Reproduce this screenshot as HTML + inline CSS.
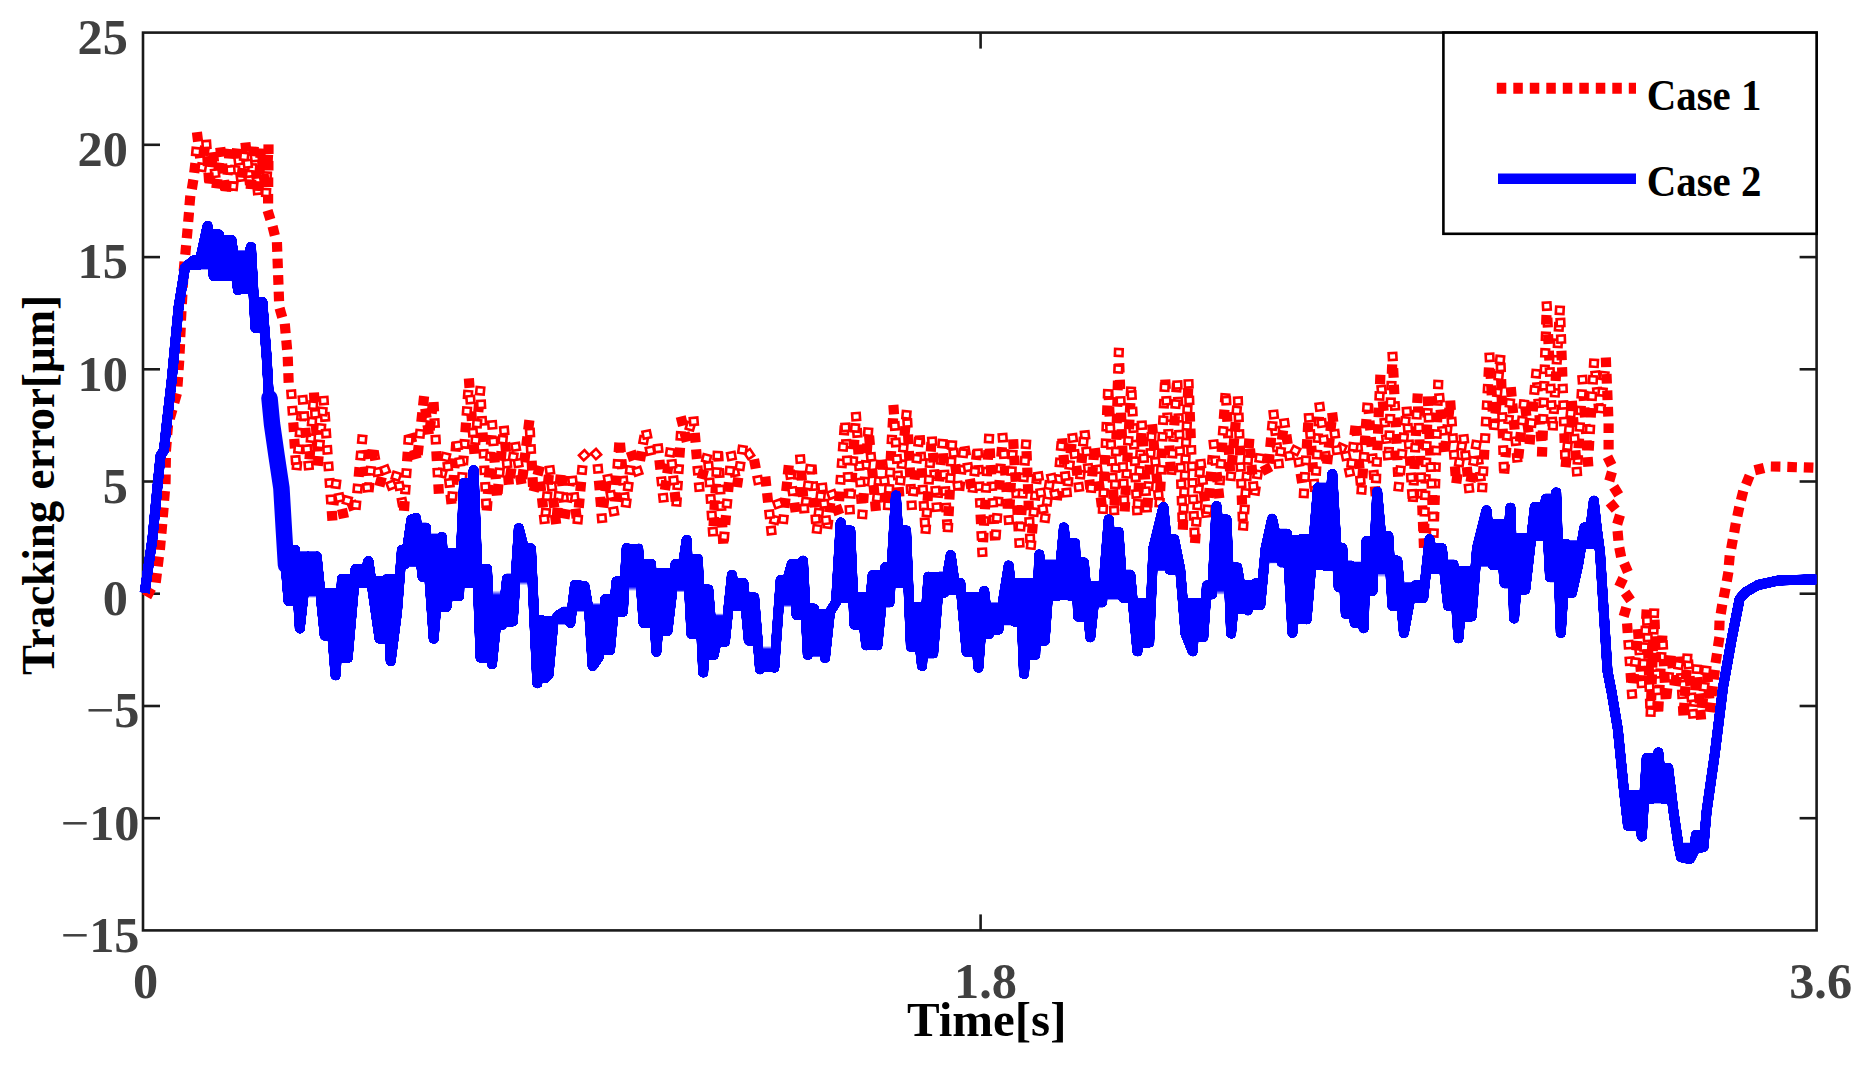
<!DOCTYPE html>
<html lang="en"><head><meta charset="utf-8"><title>Tracking error</title>
<style>html,body{margin:0;padding:0;background:#fff}svg{display:block}text{font-family:"Liberation Serif","Times New Roman",serif;font-weight:bold}</style></head><body>
<svg width="1874" height="1066" viewBox="0 0 1874 1066">
<rect width="1874" height="1066" fill="#fff"/>
<defs><clipPath id="cp"><rect x="130" y="20" width="1687.2" height="930"/></clipPath><filter id="cl" filterUnits="userSpaceOnUse" x="100" y="150" width="1760" height="760"><feMorphology operator="dilate" radius="3"/><feMorphology operator="erode" radius="3"/><feComponentTransfer><feFuncA type="linear" slope="4" intercept="-1.5"/></feComponentTransfer></filter></defs>
<g stroke="#1a1a1a" stroke-width="2.6" fill="none">
<rect x="143.0" y="32.6" width="1673.6" height="897.8"/>
<line x1="143.0" y1="144.8" x2="160.0" y2="144.8"/>
<line x1="1816.6" y1="144.8" x2="1799.6" y2="144.8"/>
<line x1="143.0" y1="257.1" x2="160.0" y2="257.1"/>
<line x1="1816.6" y1="257.1" x2="1799.6" y2="257.1"/>
<line x1="143.0" y1="369.3" x2="160.0" y2="369.3"/>
<line x1="1816.6" y1="369.3" x2="1799.6" y2="369.3"/>
<line x1="143.0" y1="481.5" x2="160.0" y2="481.5"/>
<line x1="1816.6" y1="481.5" x2="1799.6" y2="481.5"/>
<line x1="143.0" y1="593.7" x2="160.0" y2="593.7"/>
<line x1="1816.6" y1="593.7" x2="1799.6" y2="593.7"/>
<line x1="143.0" y1="706.0" x2="160.0" y2="706.0"/>
<line x1="1816.6" y1="706.0" x2="1799.6" y2="706.0"/>
<line x1="143.0" y1="818.2" x2="160.0" y2="818.2"/>
<line x1="1816.6" y1="818.2" x2="1799.6" y2="818.2"/>
<line x1="980.6" y1="930.4" x2="980.6" y2="914.4"/>
<line x1="980.6" y1="32.6" x2="980.6" y2="48.6"/>
</g>
<g fill="none" stroke-linejoin="round">
<g stroke="#ff0000" stroke-width="2.6" stroke-linejoin="miter" clip-path="url(#cp)">
<rect x="435.1" y="485.2" width="7.0" height="7.6" fill="#f00" transform="rotate(87 438.6 489.0)"/>
<rect x="1166.0" y="446.4" width="7.0" height="7.6" fill="#f00" transform="rotate(87 1169.5 450.2)"/>
<rect x="1607.1" y="472.6" width="7.0" height="7.6" fill="#f00" transform="rotate(106 1610.6 476.4)"/>
<rect x="1273.5" y="443.5" width="7.0" height="7.6" fill="#fff" transform="rotate(84 1277.0 447.3)"/>
<rect x="1474.8" y="456.3" width="7.0" height="7.6" fill="#fff" transform="rotate(83 1478.3 460.1)"/>
<rect x="1251.7" y="487.0" width="7.0" height="7.6" fill="#fff" transform="rotate(-82 1255.2 490.8)"/>
<rect x="312.7" y="426.5" width="7.0" height="7.6" fill="#f00" transform="rotate(87 316.2 430.3)"/>
<rect x="1541.2" y="365.5" width="7.0" height="7.6" fill="#fff" transform="rotate(-88 1544.7 369.3)"/>
<rect x="1338.2" y="444.1" width="7.0" height="7.6" fill="#fff" transform="rotate(-66 1341.7 447.9)"/>
<rect x="1614.5" y="532.0" width="7.0" height="7.6" fill="#f00" transform="rotate(85 1618.0 535.8)"/>
<rect x="1650.1" y="625.9" width="7.0" height="7.6" fill="#fff" transform="rotate(-88 1653.6 629.7)"/>
<rect x="626.6" y="466.3" width="7.0" height="7.6" fill="#fff" transform="rotate(-83 630.1 470.1)"/>
<rect x="861.2" y="477.6" width="7.0" height="7.6" fill="#fff" transform="rotate(-86 864.7 481.4)"/>
<rect x="1243.2" y="472.6" width="7.0" height="7.6" fill="#fff" transform="rotate(-86 1246.7 476.4)"/>
<rect x="1543.3" y="302.3" width="7.0" height="7.6" fill="#fff" transform="rotate(87 1546.8 306.1)"/>
<rect x="826.2" y="503.9" width="7.0" height="7.6" fill="#f00" transform="rotate(-83 829.7 507.7)"/>
<rect x="265.5" y="211.2" width="7.0" height="7.6" fill="#f00" transform="rotate(73 269.0 215.0)"/>
<rect x="1690.7" y="698.3" width="7.0" height="7.6" fill="#fff" transform="rotate(-86 1694.2 702.1)"/>
<rect x="1492.4" y="405.1" width="7.0" height="7.6" fill="#f00" transform="rotate(-85 1495.9 408.9)"/>
<rect x="285.0" y="374.1" width="7.0" height="7.6" fill="#f00" transform="rotate(88 288.5 377.9)"/>
<rect x="231.4" y="165.9" width="7.0" height="7.6" fill="#fff" transform="rotate(-84 234.9 169.7)"/>
<rect x="1333.4" y="446.3" width="7.0" height="7.6" fill="#fff" transform="rotate(83 1336.9 450.1)"/>
<rect x="183.7" y="229.7" width="7.0" height="7.6" fill="#f00" transform="rotate(-85 187.2 233.5)"/>
<rect x="1487.1" y="370.1" width="7.0" height="7.6" fill="#fff" transform="rotate(87 1490.6 373.9)"/>
<rect x="1242.1" y="489.1" width="7.0" height="7.6" fill="#fff" transform="rotate(-86 1245.6 492.9)"/>
<rect x="1437.5" y="410.5" width="7.0" height="7.6" fill="#f00" transform="rotate(85 1441.0 414.3)"/>
<rect x="284.4" y="357.7" width="7.0" height="7.6" fill="#f00" transform="rotate(88 287.9 361.5)"/>
<rect x="1130.5" y="440.8" width="7.0" height="7.6" fill="#fff" transform="rotate(87 1134.0 444.6)"/>
<rect x="815.3" y="508.8" width="7.0" height="7.6" fill="#fff" transform="rotate(-84 818.8 512.6)"/>
<rect x="1554.4" y="339.6" width="7.0" height="7.6" fill="#fff" transform="rotate(-87 1557.9 343.4)"/>
<rect x="783.2" y="482.7" width="7.0" height="7.6" fill="#f00" transform="rotate(-84 786.7 486.5)"/>
<rect x="484.7" y="485.6" width="7.0" height="7.6" fill="#f00" transform="rotate(-86 488.2 489.4)"/>
<rect x="468.1" y="412.3" width="7.0" height="7.6" fill="#f00" transform="rotate(86 471.6 416.1)"/>
<rect x="931.0" y="470.4" width="7.0" height="7.6" fill="#fff" transform="rotate(86 934.5 474.2)"/>
<rect x="1630.1" y="674.8" width="7.0" height="7.6" fill="#f00" transform="rotate(-85 1633.6 678.6)"/>
<rect x="707.2" y="495.0" width="7.0" height="7.6" fill="#fff" transform="rotate(86 710.7 498.8)"/>
<rect x="1533.9" y="383.1" width="7.0" height="7.6" fill="#fff" transform="rotate(86 1537.4 386.9)"/>
<rect x="177.0" y="328.5" width="7.0" height="7.6" fill="#f00" transform="rotate(-87 180.5 332.3)"/>
<rect x="1360.4" y="453.0" width="7.0" height="7.6" fill="#fff" transform="rotate(-86 1363.9 456.8)"/>
<rect x="362.1" y="467.4" width="7.0" height="7.6" fill="#f00" transform="rotate(84 365.6 471.2)"/>
<rect x="1170.1" y="433.2" width="7.0" height="7.6" fill="#fff" transform="rotate(-86 1173.6 437.0)"/>
<rect x="1725.8" y="556.5" width="7.0" height="7.6" fill="#f00" transform="rotate(-85 1729.3 560.3)"/>
<rect x="198.3" y="163.4" width="7.0" height="7.6" fill="#fff" transform="rotate(-81 201.8 167.2)"/>
<rect x="1369.1" y="454.5" width="7.0" height="7.6" fill="#fff" transform="rotate(85 1372.6 458.3)"/>
<rect x="907.3" y="485.1" width="7.0" height="7.6" fill="#fff" transform="rotate(87 910.8 488.9)"/>
<rect x="1392.9" y="435.1" width="7.0" height="7.6" fill="#f00" transform="rotate(87 1396.4 438.9)"/>
<rect x="1361.5" y="436.6" width="7.0" height="7.6" fill="#f00" transform="rotate(-86 1365.0 440.4)"/>
<rect x="1084.7" y="464.2" width="7.0" height="7.6" fill="#fff" transform="rotate(84 1088.2 468.0)"/>
<rect x="1175.8" y="430.7" width="7.0" height="7.6" fill="#fff" transform="rotate(88 1179.3 434.5)"/>
<rect x="1512.2" y="437.4" width="7.0" height="7.6" fill="#fff" transform="rotate(85 1515.7 441.2)"/>
<rect x="1411.1" y="460.4" width="7.0" height="7.6" fill="#f00" transform="rotate(-87 1414.6 464.2)"/>
<rect x="1499.3" y="429.7" width="7.0" height="7.6" fill="#f00" transform="rotate(88 1502.8 433.5)"/>
<rect x="189.1" y="180.6" width="7.0" height="7.6" fill="#f00" transform="rotate(-81 192.6 184.4)"/>
<rect x="1501.1" y="465.0" width="7.0" height="7.6" fill="#fff" transform="rotate(-85 1504.6 468.8)"/>
<rect x="575.7" y="499.2" width="7.0" height="7.6" fill="#f00" transform="rotate(-85 579.2 503.0)"/>
<rect x="1718.0" y="605.3" width="7.0" height="7.6" fill="#f00" transform="rotate(-81 1721.5 609.1)"/>
<rect x="387.7" y="481.3" width="7.0" height="7.6" fill="#fff" transform="rotate(69 391.2 485.1)"/>
<rect x="1580.1" y="392.2" width="7.0" height="7.6" fill="#f00" transform="rotate(86 1583.6 396.0)"/>
<rect x="1056.4" y="458.8" width="7.0" height="7.6" fill="#fff" transform="rotate(-85 1059.9 462.6)"/>
<rect x="939.0" y="439.9" width="7.0" height="7.6" fill="#fff" transform="rotate(-85 942.5 443.7)"/>
<rect x="911.6" y="471.2" width="7.0" height="7.6" fill="#f00" transform="rotate(-84 915.1 475.0)"/>
<rect x="1218.5" y="443.5" width="7.0" height="7.6" fill="#f00" transform="rotate(-86 1222.0 447.3)"/>
<rect x="979.8" y="533.6" width="7.0" height="7.6" fill="#fff" transform="rotate(-87 983.3 537.4)"/>
<rect x="1123.1" y="470.0" width="7.0" height="7.6" fill="#fff" transform="rotate(-87 1126.6 473.8)"/>
<rect x="265.0" y="145.4" width="7.0" height="7.6" fill="#f00" transform="rotate(90 268.5 149.2)"/>
<rect x="1145.1" y="482.3" width="7.0" height="7.6" fill="#fff" transform="rotate(-87 1148.6 486.1)"/>
<rect x="235.1" y="156.9" width="7.0" height="7.6" fill="#fff" transform="rotate(83 238.6 160.7)"/>
<rect x="1677.8" y="674.0" width="7.0" height="7.6" fill="#fff" transform="rotate(87 1681.3 677.8)"/>
<rect x="1133.6" y="506.7" width="7.0" height="7.6" fill="#fff" transform="rotate(87 1137.1 510.5)"/>
<rect x="1105.1" y="391.3" width="7.0" height="7.6" fill="#fff" transform="rotate(87 1108.6 395.1)"/>
<rect x="934.7" y="489.3" width="7.0" height="7.6" fill="#fff" transform="rotate(-85 938.2 493.1)"/>
<rect x="1455.8" y="458.5" width="7.0" height="7.6" fill="#fff" transform="rotate(-82 1459.3 462.3)"/>
<rect x="1175.2" y="414.2" width="7.0" height="7.6" fill="#fff" transform="rotate(88 1178.7 418.0)"/>
<rect x="948.5" y="441.3" width="7.0" height="7.6" fill="#fff" transform="rotate(-87 952.0 445.1)"/>
<rect x="1146.0" y="465.8" width="7.0" height="7.6" fill="#f00" transform="rotate(-87 1149.5 469.6)"/>
<rect x="1418.9" y="506.4" width="7.0" height="7.6" fill="#f00" transform="rotate(88 1422.4 510.2)"/>
<rect x="1536.3" y="416.0" width="7.0" height="7.6" fill="#f00" transform="rotate(86 1539.8 419.8)"/>
<rect x="619.7" y="476.8" width="7.0" height="7.6" fill="#fff" transform="rotate(85 623.2 480.6)"/>
<rect x="813.6" y="525.2" width="7.0" height="7.6" fill="#fff" transform="rotate(-84 817.1 529.0)"/>
<rect x="1156.1" y="498.8" width="7.0" height="7.6" fill="#fff" transform="rotate(-87 1159.6 502.6)"/>
<rect x="958.0" y="465.8" width="7.0" height="7.6" fill="#fff" transform="rotate(-84 961.5 469.6)"/>
<rect x="1304.5" y="423.7" width="7.0" height="7.6" fill="#f00" transform="rotate(-87 1308.0 427.5)"/>
<rect x="791.5" y="503.6" width="7.0" height="7.6" fill="#f00" transform="rotate(82 795.0 507.4)"/>
<rect x="1545.6" y="351.8" width="7.0" height="7.6" fill="#f00" transform="rotate(87 1549.1 355.6)"/>
<rect x="1772.1" y="462.8" width="7.0" height="7.6" fill="#f00" transform="rotate(1 1775.6 466.6)"/>
<rect x="870.5" y="486.0" width="7.0" height="7.6" fill="#f00" transform="rotate(85 874.0 489.8)"/>
<rect x="1256.2" y="454.3" width="7.0" height="7.6" fill="#fff" transform="rotate(-82 1259.7 458.1)"/>
<rect x="479.3" y="433.5" width="7.0" height="7.6" fill="#f00" transform="rotate(87 482.8 437.3)"/>
<rect x="185.1" y="213.3" width="7.0" height="7.6" fill="#f00" transform="rotate(-85 188.6 217.1)"/>
<rect x="1558.7" y="368.2" width="7.0" height="7.6" fill="#f00" transform="rotate(88 1562.2 372.0)"/>
<rect x="1064.6" y="477.7" width="7.0" height="7.6" fill="#fff" transform="rotate(-85 1068.1 481.5)"/>
<rect x="1353.0" y="427.2" width="7.0" height="7.6" fill="#f00" transform="rotate(85 1356.5 431.0)"/>
<rect x="1704.1" y="673.6" width="7.0" height="7.6" fill="#f00" transform="rotate(85 1707.6 677.4)"/>
<rect x="1391.4" y="402.2" width="7.0" height="7.6" fill="#fff" transform="rotate(87 1394.9 406.0)"/>
<rect x="1744.3" y="476.3" width="7.0" height="7.6" fill="#f00" transform="rotate(-68 1747.8 480.1)"/>
<rect x="1351.5" y="426.7" width="7.0" height="7.6" fill="#f00" transform="rotate(-84 1355.0 430.5)"/>
<rect x="1569.9" y="418.4" width="7.0" height="7.6" fill="#f00" transform="rotate(86 1573.4 422.2)"/>
<rect x="1541.7" y="349.0" width="7.0" height="7.6" fill="#fff" transform="rotate(-88 1545.2 352.8)"/>
<rect x="1433.7" y="413.7" width="7.0" height="7.6" fill="#f00" transform="rotate(-88 1437.2 417.5)"/>
<rect x="862.3" y="461.2" width="7.0" height="7.6" fill="#fff" transform="rotate(-86 865.8 465.0)"/>
<rect x="1230.3" y="439.5" width="7.0" height="7.6" fill="#f00" transform="rotate(-85 1233.8 443.3)"/>
<rect x="558.4" y="477.4" width="7.0" height="7.6" fill="#fff" transform="rotate(84 561.9 481.2)"/>
<rect x="1482.5" y="417.8" width="7.0" height="7.6" fill="#fff" transform="rotate(-87 1486.0 421.6)"/>
<rect x="1246.9" y="449.6" width="7.0" height="7.6" fill="#f00" transform="rotate(85 1250.4 453.4)"/>
<rect x="709.4" y="527.9" width="7.0" height="7.6" fill="#fff" transform="rotate(86 712.9 531.7)"/>
<rect x="1676.9" y="657.6" width="7.0" height="7.6" fill="#f00" transform="rotate(87 1680.4 661.4)"/>
<rect x="317.5" y="424.2" width="7.0" height="7.6" fill="#fff" transform="rotate(-85 321.0 428.0)"/>
<rect x="1693.2" y="665.4" width="7.0" height="7.6" fill="#fff" transform="rotate(-86 1696.7 669.2)"/>
<rect x="1622.5" y="563.8" width="7.0" height="7.6" fill="#f00" transform="rotate(67 1626.0 567.6)"/>
<rect x="463.4" y="407.3" width="7.0" height="7.6" fill="#fff" transform="rotate(-86 466.9 411.1)"/>
<rect x="407.5" y="434.5" width="7.0" height="7.6" fill="#f00" transform="rotate(75 411.0 438.3)"/>
<rect x="1086.3" y="480.6" width="7.0" height="7.6" fill="#f00" transform="rotate(84 1089.8 484.4)"/>
<rect x="503.5" y="459.7" width="7.0" height="7.6" fill="#fff" transform="rotate(85 507.0 463.5)"/>
<rect x="1300.4" y="489.6" width="7.0" height="7.6" fill="#fff" transform="rotate(-87 1303.9 493.4)"/>
<rect x="438.6" y="469.3" width="7.0" height="7.6" fill="#fff" transform="rotate(-77 442.1 473.1)"/>
<rect x="1158.3" y="449.4" width="7.0" height="7.6" fill="#f00" transform="rotate(-87 1161.8 453.2)"/>
<rect x="1378.1" y="385.9" width="7.0" height="7.6" fill="#fff" transform="rotate(85 1381.6 389.7)"/>
<rect x="943.7" y="520.2" width="7.0" height="7.6" fill="#fff" transform="rotate(87 947.2 524.0)"/>
<rect x="838.4" y="459.6" width="7.0" height="7.6" fill="#fff" transform="rotate(-86 841.9 463.4)"/>
<rect x="492.0" y="470.5" width="7.0" height="7.6" fill="#f00" transform="rotate(86 495.5 474.3)"/>
<rect x="1382.8" y="435.2" width="7.0" height="7.6" fill="#fff" transform="rotate(85 1386.3 439.0)"/>
<rect x="1138.4" y="421.5" width="7.0" height="7.6" fill="#fff" transform="rotate(87 1141.9 425.3)"/>
<rect x="1188.4" y="462.5" width="7.0" height="7.6" fill="#fff" transform="rotate(88 1191.9 466.3)"/>
<rect x="1185.8" y="396.6" width="7.0" height="7.6" fill="#fff" transform="rotate(88 1189.3 400.4)"/>
<rect x="1560.5" y="417.7" width="7.0" height="7.6" fill="#fff" transform="rotate(88 1564.0 421.5)"/>
<rect x="256.2" y="165.8" width="7.0" height="7.6" fill="#f00" transform="rotate(-87 259.7 169.6)"/>
<rect x="1102.3" y="439.5" width="7.0" height="7.6" fill="#fff" transform="rotate(-88 1105.8 443.3)"/>
<rect x="888.3" y="435.7" width="7.0" height="7.6" fill="#fff" transform="rotate(-87 891.8 439.5)"/>
<rect x="976.6" y="499.0" width="7.0" height="7.6" fill="#fff" transform="rotate(87 980.1 502.8)"/>
<rect x="323.8" y="446.1" width="7.0" height="7.6" fill="#fff" transform="rotate(86 327.3 449.9)"/>
<rect x="196.1" y="149.5" width="7.0" height="7.6" fill="#f00" transform="rotate(83 199.6 153.3)"/>
<rect x="1660.3" y="657.7" width="7.0" height="7.6" fill="#f00" transform="rotate(87 1663.8 661.5)"/>
<rect x="1309.3" y="463.3" width="7.0" height="7.6" fill="#f00" transform="rotate(86 1312.8 467.1)"/>
<rect x="570.7" y="493.2" width="7.0" height="7.6" fill="#fff" transform="rotate(84 574.2 497.0)"/>
<rect x="287.9" y="390.4" width="7.0" height="7.6" fill="#fff" transform="rotate(86 291.4 394.2)"/>
<rect x="994.6" y="497.6" width="7.0" height="7.6" fill="#fff" transform="rotate(-86 998.1 501.4)"/>
<rect x="237.2" y="173.3" width="7.0" height="7.6" fill="#fff" transform="rotate(83 240.7 177.1)"/>
<rect x="1177.1" y="463.7" width="7.0" height="7.6" fill="#fff" transform="rotate(88 1180.6 467.5)"/>
<rect x="180.6" y="262.6" width="7.0" height="7.6" fill="#f00" transform="rotate(-85 184.1 266.4)"/>
<rect x="628.8" y="451.9" width="7.0" height="7.6" fill="#f00" transform="rotate(71 632.3 455.7)"/>
<rect x="258.8" y="158.6" width="7.0" height="7.6" fill="#f00" transform="rotate(83 262.3 162.4)"/>
<rect x="809.7" y="482.4" width="7.0" height="7.6" fill="#fff" transform="rotate(86 813.2 486.2)"/>
<rect x="1548.7" y="417.7" width="7.0" height="7.6" fill="#fff" transform="rotate(87 1552.2 421.5)"/>
<rect x="373.9" y="468.2" width="7.0" height="7.6" fill="#fff" transform="rotate(80 377.4 472.0)"/>
<rect x="328.6" y="512.0" width="7.0" height="7.6" fill="#f00" transform="rotate(86 332.1 515.8)"/>
<rect x="1702.6" y="666.6" width="7.0" height="7.6" fill="#fff" transform="rotate(-84 1706.1 670.4)"/>
<rect x="1108.3" y="457.3" width="7.0" height="7.6" fill="#fff" transform="rotate(87 1111.8 461.1)"/>
<rect x="926.5" y="459.4" width="7.0" height="7.6" fill="#fff" transform="rotate(-86 930.0 463.2)"/>
<rect x="377.1" y="477.8" width="7.0" height="7.6" fill="#f00" transform="rotate(-75 380.6 481.6)"/>
<rect x="1513.6" y="453.9" width="7.0" height="7.6" fill="#fff" transform="rotate(85 1517.1 457.7)"/>
<rect x="1151.9" y="458.0" width="7.0" height="7.6" fill="#fff" transform="rotate(85 1155.4 461.8)"/>
<rect x="246.0" y="176.3" width="7.0" height="7.6" fill="#fff" transform="rotate(84 249.5 180.1)"/>
<rect x="1105.9" y="407.8" width="7.0" height="7.6" fill="#fff" transform="rotate(87 1109.4 411.6)"/>
<rect x="1113.9" y="398.2" width="7.0" height="7.6" fill="#f00" transform="rotate(-88 1117.4 402.0)"/>
<rect x="1483.4" y="401.4" width="7.0" height="7.6" fill="#fff" transform="rotate(-87 1486.9 405.2)"/>
<rect x="1233.2" y="406.7" width="7.0" height="7.6" fill="#fff" transform="rotate(-85 1236.7 410.5)"/>
<rect x="254.2" y="186.6" width="7.0" height="7.6" fill="#fff" transform="rotate(85 257.7 190.4)"/>
<rect x="1532.7" y="369.9" width="7.0" height="7.6" fill="#fff" transform="rotate(-85 1536.2 373.7)"/>
<rect x="564.2" y="493.8" width="7.0" height="7.6" fill="#fff" transform="rotate(-81 567.7 497.6)"/>
<rect x="1592.1" y="371.5" width="7.0" height="7.6" fill="#fff" transform="rotate(84 1595.6 375.3)"/>
<rect x="1705.4" y="690.0" width="7.0" height="7.6" fill="#f00" transform="rotate(85 1708.9 693.8)"/>
<rect x="1365.0" y="405.2" width="7.0" height="7.6" fill="#f00" transform="rotate(85 1368.5 409.0)"/>
<rect x="519.4" y="470.3" width="7.0" height="7.6" fill="#f00" transform="rotate(-83 522.9 474.1)"/>
<rect x="820.7" y="500.1" width="7.0" height="7.6" fill="#fff" transform="rotate(84 824.2 503.9)"/>
<rect x="1355.6" y="460.1" width="7.0" height="7.6" fill="#f00" transform="rotate(85 1359.1 463.9)"/>
<rect x="172.1" y="394.2" width="7.0" height="7.6" fill="#f00" transform="rotate(-74 175.6 398.0)"/>
<rect x="1118.3" y="430.1" width="7.0" height="7.6" fill="#f00" transform="rotate(88 1121.8 433.9)"/>
<rect x="711.2" y="501.3" width="7.0" height="7.6" fill="#f00" transform="rotate(-87 714.7 505.1)"/>
<rect x="1403.4" y="407.7" width="7.0" height="7.6" fill="#fff" transform="rotate(86 1406.9 411.5)"/>
<rect x="1694.5" y="678.1" width="7.0" height="7.6" fill="#f00" transform="rotate(85 1698.0 681.9)"/>
<rect x="1472.7" y="441.0" width="7.0" height="7.6" fill="#fff" transform="rotate(-81 1476.2 444.8)"/>
<rect x="281.7" y="324.8" width="7.0" height="7.6" fill="#f00" transform="rotate(85 285.2 328.6)"/>
<rect x="1595.4" y="404.3" width="7.0" height="7.6" fill="#f00" transform="rotate(84 1598.9 408.1)"/>
<rect x="462.2" y="423.7" width="7.0" height="7.6" fill="#f00" transform="rotate(-86 465.7 427.5)"/>
<rect x="811.0" y="498.8" width="7.0" height="7.6" fill="#f00" transform="rotate(86 814.5 502.6)"/>
<rect x="837.1" y="476.0" width="7.0" height="7.6" fill="#fff" transform="rotate(-86 840.6 479.8)"/>
<rect x="210.0" y="153.1" width="7.0" height="7.6" fill="#f00" transform="rotate(84 213.5 156.9)"/>
<rect x="1281.0" y="419.3" width="7.0" height="7.6" fill="#fff" transform="rotate(82 1284.5 423.1)"/>
<rect x="850.5" y="440.7" width="7.0" height="7.6" fill="#f00" transform="rotate(-86 854.0 444.5)"/>
<rect x="1412.6" y="427.4" width="7.0" height="7.6" fill="#f00" transform="rotate(-87 1416.1 431.2)"/>
<rect x="1503.7" y="432.1" width="7.0" height="7.6" fill="#fff" transform="rotate(-85 1507.2 435.9)"/>
<rect x="367.1" y="467.0" width="7.0" height="7.6" fill="#fff" transform="rotate(-84 370.6 470.8)"/>
<rect x="1059.1" y="439.4" width="7.0" height="7.6" fill="#f00" transform="rotate(85 1062.6 443.2)"/>
<rect x="1626.2" y="657.4" width="7.0" height="7.6" fill="#fff" transform="rotate(86 1629.7 661.2)"/>
<rect x="654.7" y="444.6" width="7.0" height="7.6" fill="#fff" transform="rotate(84 658.2 448.4)"/>
<rect x="1389.9" y="369.2" width="7.0" height="7.6" fill="#f00" transform="rotate(87 1393.4 373.0)"/>
<rect x="1311.7" y="483.7" width="7.0" height="7.6" fill="#fff" transform="rotate(-87 1315.2 487.5)"/>
<rect x="1139.4" y="437.9" width="7.0" height="7.6" fill="#f00" transform="rotate(87 1142.9 441.7)"/>
<rect x="1724.1" y="572.9" width="7.0" height="7.6" fill="#f00" transform="rotate(-80 1727.6 576.7)"/>
<rect x="1685.0" y="660.7" width="7.0" height="7.6" fill="#fff" transform="rotate(85 1688.5 664.5)"/>
<rect x="879.0" y="460.6" width="7.0" height="7.6" fill="#fff" transform="rotate(83 882.5 464.4)"/>
<rect x="1002.8" y="483.3" width="7.0" height="7.6" fill="#f00" transform="rotate(86 1006.3 487.1)"/>
<rect x="969.5" y="484.2" width="7.0" height="7.6" fill="#fff" transform="rotate(-84 973.0 488.0)"/>
<rect x="1303.5" y="440.2" width="7.0" height="7.6" fill="#f00" transform="rotate(-87 1307.0 444.0)"/>
<rect x="552.1" y="515.5" width="7.0" height="7.6" fill="#f00" transform="rotate(83 555.6 519.3)"/>
<rect x="796.8" y="455.3" width="7.0" height="7.6" fill="#fff" transform="rotate(86 800.3 459.1)"/>
<rect x="1597.2" y="404.7" width="7.0" height="7.6" fill="#fff" transform="rotate(-84 1600.7 408.5)"/>
<rect x="781.5" y="499.1" width="7.0" height="7.6" fill="#f00" transform="rotate(-84 785.0 502.9)"/>
<rect x="824.3" y="520.3" width="7.0" height="7.6" fill="#fff" transform="rotate(-83 827.8 524.1)"/>
<rect x="1022.5" y="440.5" width="7.0" height="7.6" fill="#fff" transform="rotate(-86 1026.0 444.3)"/>
<rect x="618.3" y="460.4" width="7.0" height="7.6" fill="#f00" transform="rotate(85 621.8 464.2)"/>
<rect x="330.5" y="496.5" width="7.0" height="7.6" fill="#f00" transform="rotate(-83 334.0 500.3)"/>
<rect x="572.6" y="509.6" width="7.0" height="7.6" fill="#f00" transform="rotate(84 576.1 513.4)"/>
<rect x="461.0" y="440.2" width="7.0" height="7.6" fill="#fff" transform="rotate(-86 464.5 444.0)"/>
<rect x="478.5" y="417.1" width="7.0" height="7.6" fill="#fff" transform="rotate(87 482.0 420.9)"/>
<rect x="164.1" y="426.1" width="7.0" height="7.6" fill="#f00" transform="rotate(-85 167.6 429.9)"/>
<rect x="1553.4" y="356.0" width="7.0" height="7.6" fill="#fff" transform="rotate(-87 1556.9 359.8)"/>
<rect x="1107.5" y="440.8" width="7.0" height="7.6" fill="#fff" transform="rotate(87 1111.0 444.6)"/>
<rect x="1734.8" y="507.8" width="7.0" height="7.6" fill="#f00" transform="rotate(-78 1738.3 511.6)"/>
<rect x="1386.0" y="431.4" width="7.0" height="7.6" fill="#fff" transform="rotate(-88 1389.5 435.2)"/>
<rect x="1160.5" y="399.9" width="7.0" height="7.6" fill="#fff" transform="rotate(-87 1164.0 403.7)"/>
<rect x="1589.5" y="376.0" width="7.0" height="7.6" fill="#fff" transform="rotate(-87 1593.0 379.8)"/>
<rect x="283.2" y="341.2" width="7.0" height="7.6" fill="#f00" transform="rotate(85 286.7 345.0)"/>
<rect x="1190.3" y="512.0" width="7.0" height="7.6" fill="#fff" transform="rotate(88 1193.8 515.8)"/>
<rect x="1605.1" y="424.4" width="7.0" height="7.6" fill="#f00" transform="rotate(90 1608.6 428.2)"/>
<rect x="895.5" y="488.1" width="7.0" height="7.6" fill="#f00" transform="rotate(86 899.0 491.9)"/>
<rect x="175.4" y="361.4" width="7.0" height="7.6" fill="#f00" transform="rotate(-86 178.9 365.2)"/>
<rect x="1329.2" y="413.6" width="7.0" height="7.6" fill="#f00" transform="rotate(83 1332.7 417.4)"/>
<rect x="1379.7" y="402.4" width="7.0" height="7.6" fill="#f00" transform="rotate(85 1383.2 406.2)"/>
<rect x="1004.0" y="499.7" width="7.0" height="7.6" fill="#fff" transform="rotate(86 1007.5 503.5)"/>
<rect x="1635.9" y="646.6" width="7.0" height="7.6" fill="#fff" transform="rotate(86 1639.4 650.4)"/>
<rect x="1538.6" y="448.0" width="7.0" height="7.6" fill="#f00" transform="rotate(-88 1542.1 451.8)"/>
<rect x="1539.7" y="415.0" width="7.0" height="7.6" fill="#fff" transform="rotate(-88 1543.2 418.8)"/>
<rect x="675.2" y="465.2" width="7.0" height="7.6" fill="#fff" transform="rotate(-86 678.7 469.0)"/>
<rect x="483.6" y="502.0" width="7.0" height="7.6" fill="#f00" transform="rotate(-86 487.1 505.8)"/>
<rect x="475.2" y="403.4" width="7.0" height="7.6" fill="#f00" transform="rotate(-85 478.7 407.2)"/>
<rect x="1650.6" y="609.4" width="7.0" height="7.6" fill="#fff" transform="rotate(-88 1654.1 613.2)"/>
<rect x="899.9" y="443.9" width="7.0" height="7.6" fill="#fff" transform="rotate(-85 903.4 447.7)"/>
<rect x="983.6" y="467.7" width="7.0" height="7.6" fill="#fff" transform="rotate(-87 987.1 471.5)"/>
<rect x="710.3" y="517.7" width="7.0" height="7.6" fill="#f00" transform="rotate(-87 713.8 521.5)"/>
<rect x="289.0" y="406.8" width="7.0" height="7.6" fill="#fff" transform="rotate(86 292.5 410.6)"/>
<rect x="1109.8" y="490.2" width="7.0" height="7.6" fill="#f00" transform="rotate(87 1113.3 494.0)"/>
<rect x="664.4" y="465.0" width="7.0" height="7.6" fill="#f00" transform="rotate(-82 667.9 468.8)"/>
<rect x="1312.6" y="467.2" width="7.0" height="7.6" fill="#fff" transform="rotate(-87 1316.1 471.0)"/>
<rect x="1651.8" y="637.2" width="7.0" height="7.6" fill="#f00" transform="rotate(88 1655.3 641.0)"/>
<rect x="1081.5" y="431.3" width="7.0" height="7.6" fill="#fff" transform="rotate(84 1085.0 435.1)"/>
<rect x="799.3" y="488.2" width="7.0" height="7.6" fill="#f00" transform="rotate(86 802.8 492.0)"/>
<rect x="779.9" y="515.5" width="7.0" height="7.6" fill="#fff" transform="rotate(-84 783.4 519.3)"/>
<rect x="595.8" y="481.5" width="7.0" height="7.6" fill="#f00" transform="rotate(85 599.3 485.3)"/>
<rect x="499.2" y="435.8" width="7.0" height="7.6" fill="#fff" transform="rotate(-85 502.7 439.6)"/>
<rect x="1285.9" y="451.9" width="7.0" height="7.6" fill="#fff" transform="rotate(82 1289.4 455.7)"/>
<rect x="159.7" y="508.5" width="7.0" height="7.6" fill="#f00" transform="rotate(-85 163.2 512.3)"/>
<rect x="901.4" y="427.4" width="7.0" height="7.6" fill="#f00" transform="rotate(-85 904.9 431.2)"/>
<rect x="1121.4" y="503.0" width="7.0" height="7.6" fill="#f00" transform="rotate(-87 1124.9 506.8)"/>
<rect x="293.4" y="461.7" width="7.0" height="7.6" fill="#fff" transform="rotate(-85 296.9 465.5)"/>
<rect x="1237.1" y="463.2" width="7.0" height="7.6" fill="#fff" transform="rotate(88 1240.6 467.0)"/>
<rect x="1493.8" y="388.6" width="7.0" height="7.6" fill="#fff" transform="rotate(-85 1497.3 392.4)"/>
<rect x="1012.9" y="489.7" width="7.0" height="7.6" fill="#fff" transform="rotate(87 1016.4 493.5)"/>
<rect x="1127.4" y="387.6" width="7.0" height="7.6" fill="#fff" transform="rotate(-87 1130.9 391.4)"/>
<rect x="719.5" y="535.2" width="7.0" height="7.6" fill="#f00" transform="rotate(87 723.0 539.0)"/>
<rect x="1122.2" y="486.5" width="7.0" height="7.6" fill="#f00" transform="rotate(-87 1125.7 490.3)"/>
<rect x="1115.9" y="364.2" width="7.0" height="7.6" fill="#f00" transform="rotate(88 1119.4 368.0)"/>
<rect x="182.2" y="246.2" width="7.0" height="7.6" fill="#f00" transform="rotate(-85 185.7 250.0)"/>
<rect x="509.7" y="452.9" width="7.0" height="7.6" fill="#fff" transform="rotate(-81 513.2 456.7)"/>
<rect x="1520.3" y="400.4" width="7.0" height="7.6" fill="#fff" transform="rotate(-84 1523.8 404.2)"/>
<rect x="686.8" y="422.4" width="7.0" height="7.6" fill="#fff" transform="rotate(-74 690.3 426.2)"/>
<rect x="1327.4" y="422.7" width="7.0" height="7.6" fill="#f00" transform="rotate(-84 1330.9 426.5)"/>
<rect x="929.8" y="453.9" width="7.0" height="7.6" fill="#f00" transform="rotate(86 933.3 457.7)"/>
<rect x="1006.2" y="500.2" width="7.0" height="7.6" fill="#f00" transform="rotate(-87 1009.7 504.0)"/>
<rect x="1168.0" y="466.2" width="7.0" height="7.6" fill="#fff" transform="rotate(-86 1171.5 470.0)"/>
<rect x="918.5" y="469.2" width="7.0" height="7.6" fill="#f00" transform="rotate(87 922.0 473.0)"/>
<rect x="1156.9" y="482.4" width="7.0" height="7.6" fill="#f00" transform="rotate(-87 1160.4 486.2)"/>
<rect x="1593.8" y="387.9" width="7.0" height="7.6" fill="#fff" transform="rotate(84 1597.3 391.7)"/>
<rect x="922.3" y="525.3" width="7.0" height="7.6" fill="#fff" transform="rotate(-86 925.8 529.1)"/>
<rect x="1562.5" y="458.7" width="7.0" height="7.6" fill="#f00" transform="rotate(-85 1566.0 462.5)"/>
<rect x="1174.6" y="397.7" width="7.0" height="7.6" fill="#fff" transform="rotate(88 1178.1 401.5)"/>
<rect x="1394.4" y="468.1" width="7.0" height="7.6" fill="#fff" transform="rotate(87 1397.9 471.9)"/>
<rect x="1588.5" y="392.4" width="7.0" height="7.6" fill="#fff" transform="rotate(-87 1592.0 396.2)"/>
<rect x="459.9" y="456.6" width="7.0" height="7.6" fill="#fff" transform="rotate(-86 463.4 460.4)"/>
<rect x="221.1" y="181.2" width="7.0" height="7.6" fill="#f00" transform="rotate(83 224.6 185.0)"/>
<rect x="401.9" y="485.7" width="7.0" height="7.6" fill="#fff" transform="rotate(-86 405.4 489.5)"/>
<rect x="1465.5" y="484.4" width="7.0" height="7.6" fill="#fff" transform="rotate(84 1469.0 488.2)"/>
<rect x="767.8" y="526.8" width="7.0" height="7.6" fill="#fff" transform="rotate(84 771.3 530.6)"/>
<rect x="430.3" y="402.9" width="7.0" height="7.6" fill="#f00" transform="rotate(87 433.8 406.7)"/>
<rect x="431.2" y="419.3" width="7.0" height="7.6" fill="#fff" transform="rotate(87 434.7 423.1)"/>
<rect x="432.2" y="435.8" width="7.0" height="7.6" fill="#fff" transform="rotate(87 435.7 439.6)"/>
<rect x="1147.0" y="449.3" width="7.0" height="7.6" fill="#fff" transform="rotate(-87 1150.5 453.1)"/>
<rect x="1014.9" y="522.6" width="7.0" height="7.6" fill="#fff" transform="rotate(87 1018.4 526.4)"/>
<rect x="1162.0" y="380.5" width="7.0" height="7.6" fill="#f00" transform="rotate(87 1165.5 384.3)"/>
<rect x="1623.9" y="624.4" width="7.0" height="7.6" fill="#f00" transform="rotate(86 1627.4 628.2)"/>
<rect x="927.6" y="443.0" width="7.0" height="7.6" fill="#f00" transform="rotate(-86 931.1 446.8)"/>
<rect x="1195.1" y="485.1" width="7.0" height="7.6" fill="#fff" transform="rotate(-86 1198.6 488.9)"/>
<rect x="1448.2" y="417.9" width="7.0" height="7.6" fill="#fff" transform="rotate(86 1451.7 421.7)"/>
<rect x="1648.9" y="658.9" width="7.0" height="7.6" fill="#f00" transform="rotate(-88 1652.4 662.7)"/>
<rect x="996.9" y="464.7" width="7.0" height="7.6" fill="#fff" transform="rotate(-86 1000.4 468.5)"/>
<rect x="842.8" y="440.1" width="7.0" height="7.6" fill="#fff" transform="rotate(87 846.3 443.9)"/>
<rect x="422.4" y="409.5" width="7.0" height="7.6" fill="#f00" transform="rotate(82 425.9 413.3)"/>
<rect x="1322.2" y="452.2" width="7.0" height="7.6" fill="#fff" transform="rotate(83 1325.7 456.0)"/>
<rect x="1498.3" y="396.7" width="7.0" height="7.6" fill="#f00" transform="rotate(88 1501.8 400.5)"/>
<rect x="450.1" y="476.0" width="7.0" height="7.6" fill="#f00" transform="rotate(-86 453.6 479.8)"/>
<rect x="1646.6" y="699.6" width="7.0" height="7.6" fill="#fff" transform="rotate(88 1650.1 703.4)"/>
<rect x="637.3" y="452.4" width="7.0" height="7.6" fill="#f00" transform="rotate(-80 640.8 456.2)"/>
<rect x="990.4" y="515.4" width="7.0" height="7.6" fill="#fff" transform="rotate(87 993.9 519.2)"/>
<rect x="1358.1" y="486.0" width="7.0" height="7.6" fill="#fff" transform="rotate(-86 1361.6 489.8)"/>
<rect x="1627.4" y="673.8" width="7.0" height="7.6" fill="#f00" transform="rotate(86 1630.9 677.6)"/>
<rect x="442.2" y="453.2" width="7.0" height="7.6" fill="#fff" transform="rotate(-77 445.7 457.0)"/>
<rect x="1574.3" y="456.1" width="7.0" height="7.6" fill="#fff" transform="rotate(-87 1577.8 459.9)"/>
<rect x="1181.4" y="471.6" width="7.0" height="7.6" fill="#fff" transform="rotate(-88 1184.9 475.4)"/>
<rect x="1017.0" y="522.8" width="7.0" height="7.6" fill="#fff" transform="rotate(-86 1020.5 526.6)"/>
<rect x="255.3" y="182.3" width="7.0" height="7.6" fill="#f00" transform="rotate(-87 258.8 186.1)"/>
<rect x="1573.4" y="467.8" width="7.0" height="7.6" fill="#fff" transform="rotate(86 1576.9 471.6)"/>
<rect x="1069.2" y="434.1" width="7.0" height="7.6" fill="#fff" transform="rotate(83 1072.7 437.9)"/>
<rect x="497.6" y="452.2" width="7.0" height="7.6" fill="#f00" transform="rotate(-85 501.1 456.0)"/>
<rect x="402.9" y="469.3" width="7.0" height="7.6" fill="#fff" transform="rotate(-86 406.4 473.1)"/>
<rect x="1165.0" y="429.9" width="7.0" height="7.6" fill="#fff" transform="rotate(87 1168.5 433.7)"/>
<rect x="872.0" y="502.4" width="7.0" height="7.6" fill="#f00" transform="rotate(85 875.5 506.2)"/>
<rect x="734.1" y="478.6" width="7.0" height="7.6" fill="#f00" transform="rotate(-82 737.6 482.4)"/>
<rect x="1103.7" y="406.5" width="7.0" height="7.6" fill="#f00" transform="rotate(-88 1107.2 410.3)"/>
<rect x="1100.1" y="489.0" width="7.0" height="7.6" fill="#fff" transform="rotate(-88 1103.6 492.8)"/>
<rect x="1389.1" y="352.7" width="7.0" height="7.6" fill="#fff" transform="rotate(87 1392.6 356.5)"/>
<rect x="1187.1" y="429.6" width="7.0" height="7.6" fill="#f00" transform="rotate(88 1190.6 433.4)"/>
<rect x="480.2" y="450.0" width="7.0" height="7.6" fill="#fff" transform="rotate(87 483.7 453.8)"/>
<rect x="186.4" y="196.8" width="7.0" height="7.6" fill="#f00" transform="rotate(-85 189.9 200.6)"/>
<rect x="208.3" y="158.7" width="7.0" height="7.6" fill="#f00" transform="rotate(-84 211.8 162.5)"/>
<rect x="445.9" y="479.1" width="7.0" height="7.6" fill="#fff" transform="rotate(84 449.4 482.9)"/>
<rect x="299.3" y="396.0" width="7.0" height="7.6" fill="#fff" transform="rotate(85 302.8 399.8)"/>
<rect x="162.8" y="442.6" width="7.0" height="7.6" fill="#f00" transform="rotate(-85 166.3 446.4)"/>
<rect x="556.8" y="475.7" width="7.0" height="7.6" fill="#f00" transform="rotate(-85 560.3 479.5)"/>
<rect x="1443.7" y="425.5" width="7.0" height="7.6" fill="#fff" transform="rotate(-84 1447.2 429.3)"/>
<rect x="1668.7" y="659.6" width="7.0" height="7.6" fill="#f00" transform="rotate(83 1672.2 663.4)"/>
<rect x="1559.3" y="384.7" width="7.0" height="7.6" fill="#fff" transform="rotate(88 1562.8 388.5)"/>
<rect x="884.6" y="501.6" width="7.0" height="7.6" fill="#fff" transform="rotate(-87 888.1 505.4)"/>
<rect x="542.3" y="508.8" width="7.0" height="7.6" fill="#fff" transform="rotate(-85 545.8 512.6)"/>
<rect x="1616.7" y="548.4" width="7.0" height="7.6" fill="#f00" transform="rotate(79 1620.2 552.2)"/>
<rect x="942.7" y="503.7" width="7.0" height="7.6" fill="#fff" transform="rotate(87 946.2 507.5)"/>
<rect x="1150.4" y="441.6" width="7.0" height="7.6" fill="#f00" transform="rotate(85 1153.9 445.4)"/>
<rect x="1431.7" y="479.7" width="7.0" height="7.6" fill="#fff" transform="rotate(-88 1435.2 483.5)"/>
<rect x="1075.3" y="483.2" width="7.0" height="7.6" fill="#fff" transform="rotate(83 1078.8 487.0)"/>
<rect x="1414.7" y="407.4" width="7.0" height="7.6" fill="#f00" transform="rotate(88 1418.2 411.2)"/>
<rect x="1728.5" y="540.2" width="7.0" height="7.6" fill="#f00" transform="rotate(-80 1732.0 544.0)"/>
<rect x="161.0" y="492.0" width="7.0" height="7.6" fill="#f00" transform="rotate(-85 164.5 495.8)"/>
<rect x="936.1" y="472.8" width="7.0" height="7.6" fill="#f00" transform="rotate(-85 939.6 476.6)"/>
<rect x="1422.1" y="475.0" width="7.0" height="7.6" fill="#fff" transform="rotate(-88 1425.6 478.8)"/>
<rect x="1143.2" y="503.8" width="7.0" height="7.6" fill="#fff" transform="rotate(87 1146.7 507.6)"/>
<rect x="989.4" y="499.0" width="7.0" height="7.6" fill="#fff" transform="rotate(87 992.9 502.8)"/>
<rect x="1679.7" y="707.0" width="7.0" height="7.6" fill="#f00" transform="rotate(87 1683.2 710.8)"/>
<rect x="1606.1" y="457.2" width="7.0" height="7.6" fill="#f00" transform="rotate(64 1609.6 461.0)"/>
<rect x="1550.5" y="405.4" width="7.0" height="7.6" fill="#fff" transform="rotate(-87 1554.0 409.2)"/>
<rect x="1178.3" y="496.7" width="7.0" height="7.6" fill="#fff" transform="rotate(88 1181.8 500.5)"/>
<rect x="812.2" y="515.3" width="7.0" height="7.6" fill="#fff" transform="rotate(86 815.7 519.1)"/>
<rect x="1495.2" y="372.2" width="7.0" height="7.6" fill="#fff" transform="rotate(-85 1498.7 376.0)"/>
<rect x="224.4" y="166.4" width="7.0" height="7.6" fill="#f00" transform="rotate(-85 227.9 170.2)"/>
<rect x="580.6" y="451.5" width="7.0" height="7.6" fill="#fff" transform="rotate(47 584.1 455.3)"/>
<rect x="290.1" y="423.3" width="7.0" height="7.6" fill="#f00" transform="rotate(86 293.6 427.1)"/>
<rect x="1692.0" y="681.8" width="7.0" height="7.6" fill="#f00" transform="rotate(-86 1695.5 685.6)"/>
<rect x="1706.9" y="703.6" width="7.0" height="7.6" fill="#f00" transform="rotate(-83 1710.4 707.4)"/>
<rect x="451.2" y="459.5" width="7.0" height="7.6" fill="#f00" transform="rotate(-86 454.7 463.3)"/>
<rect x="984.6" y="451.2" width="7.0" height="7.6" fill="#fff" transform="rotate(-87 988.1 455.0)"/>
<rect x="1009.9" y="440.3" width="7.0" height="7.6" fill="#f00" transform="rotate(87 1013.4 444.1)"/>
<rect x="251.4" y="153.7" width="7.0" height="7.6" fill="#fff" transform="rotate(85 254.9 157.5)"/>
<rect x="204.1" y="157.2" width="7.0" height="7.6" fill="#f00" transform="rotate(86 207.6 161.0)"/>
<rect x="1721.1" y="589.1" width="7.0" height="7.6" fill="#f00" transform="rotate(-79 1724.6 592.9)"/>
<rect x="1180.1" y="504.6" width="7.0" height="7.6" fill="#fff" transform="rotate(-88 1183.6 508.4)"/>
<rect x="1395.2" y="482.9" width="7.0" height="7.6" fill="#fff" transform="rotate(-84 1398.7 486.7)"/>
<rect x="1324.1" y="455.5" width="7.0" height="7.6" fill="#f00" transform="rotate(-84 1327.6 459.3)"/>
<rect x="1144.2" y="498.8" width="7.0" height="7.6" fill="#f00" transform="rotate(-87 1147.7 502.6)"/>
<rect x="1535.1" y="399.6" width="7.0" height="7.6" fill="#fff" transform="rotate(86 1538.6 403.4)"/>
<rect x="200.8" y="147.1" width="7.0" height="7.6" fill="#f00" transform="rotate(-81 204.3 150.9)"/>
<rect x="1489.9" y="419.5" width="7.0" height="7.6" fill="#f00" transform="rotate(87 1493.4 423.3)"/>
<rect x="420.1" y="397.1" width="7.0" height="7.6" fill="#f00" transform="rotate(-84 423.6 400.9)"/>
<rect x="1031.8" y="491.9" width="7.0" height="7.6" fill="#fff" transform="rotate(-85 1035.3 495.7)"/>
<rect x="673.1" y="498.1" width="7.0" height="7.6" fill="#fff" transform="rotate(-86 676.6 501.9)"/>
<rect x="1505.1" y="415.7" width="7.0" height="7.6" fill="#fff" transform="rotate(-85 1508.6 419.5)"/>
<rect x="745.7" y="450.3" width="7.0" height="7.6" fill="#fff" transform="rotate(-34 749.2 454.1)"/>
<rect x="731.1" y="468.4" width="7.0" height="7.6" fill="#fff" transform="rotate(79 734.6 472.2)"/>
<rect x="1234.5" y="397.2" width="7.0" height="7.6" fill="#fff" transform="rotate(88 1238.0 401.0)"/>
<rect x="321.5" y="413.2" width="7.0" height="7.6" fill="#fff" transform="rotate(86 325.0 417.0)"/>
<rect x="1354.3" y="443.7" width="7.0" height="7.6" fill="#fff" transform="rotate(85 1357.8 447.5)"/>
<rect x="1267.2" y="438.6" width="7.0" height="7.6" fill="#f00" transform="rotate(-85 1270.7 442.4)"/>
<rect x="1315.3" y="417.8" width="7.0" height="7.6" fill="#fff" transform="rotate(-87 1318.8 421.6)"/>
<rect x="1546.4" y="368.2" width="7.0" height="7.6" fill="#fff" transform="rotate(87 1549.9 372.0)"/>
<rect x="853.7" y="429.2" width="7.0" height="7.6" fill="#fff" transform="rotate(86 857.2 433.0)"/>
<rect x="751.4" y="460.1" width="7.0" height="7.6" fill="#f00" transform="rotate(79 754.9 463.9)"/>
<rect x="993.5" y="514.1" width="7.0" height="7.6" fill="#fff" transform="rotate(-86 997.0 517.9)"/>
<rect x="365.5" y="483.4" width="7.0" height="7.6" fill="#fff" transform="rotate(-84 369.0 487.2)"/>
<rect x="1226.3" y="462.7" width="7.0" height="7.6" fill="#f00" transform="rotate(87 1229.8 466.5)"/>
<rect x="725.0" y="483.3" width="7.0" height="7.6" fill="#f00" transform="rotate(-85 728.5 487.1)"/>
<rect x="320.3" y="396.8" width="7.0" height="7.6" fill="#fff" transform="rotate(86 323.8 400.6)"/>
<rect x="840.8" y="426.7" width="7.0" height="7.6" fill="#fff" transform="rotate(-86 844.3 430.5)"/>
<rect x="986.5" y="449.6" width="7.0" height="7.6" fill="#f00" transform="rotate(87 990.0 453.4)"/>
<rect x="1381.2" y="418.8" width="7.0" height="7.6" fill="#fff" transform="rotate(85 1384.7 422.6)"/>
<rect x="1221.7" y="394.1" width="7.0" height="7.6" fill="#fff" transform="rotate(-86 1225.2 397.9)"/>
<rect x="1577.1" y="406.7" width="7.0" height="7.6" fill="#fff" transform="rotate(-87 1580.6 410.5)"/>
<rect x="1120.7" y="496.1" width="7.0" height="7.6" fill="#fff" transform="rotate(88 1124.2 499.9)"/>
<rect x="566.7" y="477.4" width="7.0" height="7.6" fill="#fff" transform="rotate(-81 570.2 481.2)"/>
<rect x="875.4" y="477.3" width="7.0" height="7.6" fill="#fff" transform="rotate(-84 878.9 481.1)"/>
<rect x="1599.0" y="388.3" width="7.0" height="7.6" fill="#fff" transform="rotate(-84 1602.5 392.1)"/>
<rect x="568.9" y="476.8" width="7.0" height="7.6" fill="#fff" transform="rotate(84 572.4 480.6)"/>
<rect x="1410.4" y="476.9" width="7.0" height="7.6" fill="#fff" transform="rotate(-87 1413.9 480.7)"/>
<rect x="1026.6" y="534.5" width="7.0" height="7.6" fill="#fff" transform="rotate(88 1030.1 538.3)"/>
<rect x="1196.2" y="468.7" width="7.0" height="7.6" fill="#fff" transform="rotate(-86 1199.7 472.5)"/>
<rect x="1373.3" y="458.1" width="7.0" height="7.6" fill="#fff" transform="rotate(-88 1376.8 461.9)"/>
<rect x="867.5" y="453.1" width="7.0" height="7.6" fill="#fff" transform="rotate(85 871.0 456.9)"/>
<rect x="1099.4" y="505.4" width="7.0" height="7.6" fill="#fff" transform="rotate(-88 1102.9 509.2)"/>
<rect x="577.2" y="482.7" width="7.0" height="7.6" fill="#f00" transform="rotate(-85 580.7 486.5)"/>
<rect x="1187.7" y="446.1" width="7.0" height="7.6" fill="#fff" transform="rotate(88 1191.2 449.9)"/>
<rect x="925.5" y="475.9" width="7.0" height="7.6" fill="#fff" transform="rotate(-86 929.0 479.7)"/>
<rect x="1237.8" y="479.7" width="7.0" height="7.6" fill="#fff" transform="rotate(88 1241.3 483.5)"/>
<rect x="722.1" y="516.2" width="7.0" height="7.6" fill="#f00" transform="rotate(-85 725.6 520.0)"/>
<rect x="464.5" y="390.8" width="7.0" height="7.6" fill="#fff" transform="rotate(-86 468.0 394.6)"/>
<rect x="1025.9" y="518.0" width="7.0" height="7.6" fill="#fff" transform="rotate(88 1029.4 521.8)"/>
<rect x="941.8" y="487.2" width="7.0" height="7.6" fill="#fff" transform="rotate(87 945.3 491.0)"/>
<rect x="1424.0" y="409.0" width="7.0" height="7.6" fill="#fff" transform="rotate(-88 1427.5 412.8)"/>
<rect x="1129.8" y="424.3" width="7.0" height="7.6" fill="#fff" transform="rotate(87 1133.3 428.1)"/>
<rect x="828.5" y="490.6" width="7.0" height="7.6" fill="#fff" transform="rotate(70 832.0 494.4)"/>
<rect x="712.2" y="484.8" width="7.0" height="7.6" fill="#f00" transform="rotate(-87 715.7 488.6)"/>
<rect x="1670.6" y="676.0" width="7.0" height="7.6" fill="#f00" transform="rotate(83 1674.1 679.8)"/>
<rect x="1621.5" y="608.1" width="7.0" height="7.6" fill="#f00" transform="rotate(106 1625.0 611.9)"/>
<rect x="916.5" y="436.3" width="7.0" height="7.6" fill="#fff" transform="rotate(87 920.0 440.1)"/>
<rect x="336.0" y="493.7" width="7.0" height="7.6" fill="#fff" transform="rotate(78 339.5 497.5)"/>
<rect x="1114.8" y="365.2" width="7.0" height="7.6" fill="#fff" transform="rotate(-88 1118.3 369.0)"/>
<rect x="771.0" y="516.1" width="7.0" height="7.6" fill="#fff" transform="rotate(-78 774.5 519.9)"/>
<rect x="616.9" y="443.9" width="7.0" height="7.6" fill="#fff" transform="rotate(85 620.4 447.7)"/>
<rect x="178.6" y="295.5" width="7.0" height="7.6" fill="#f00" transform="rotate(-87 182.1 299.3)"/>
<rect x="1655.0" y="702.3" width="7.0" height="7.6" fill="#fff" transform="rotate(-87 1658.5 706.1)"/>
<rect x="677.2" y="432.2" width="7.0" height="7.6" fill="#fff" transform="rotate(-86 680.7 436.0)"/>
<rect x="1076.9" y="470.8" width="7.0" height="7.6" fill="#fff" transform="rotate(-85 1080.4 474.6)"/>
<rect x="1695.9" y="694.5" width="7.0" height="7.6" fill="#f00" transform="rotate(85 1699.4 698.3)"/>
<rect x="1117.7" y="413.6" width="7.0" height="7.6" fill="#f00" transform="rotate(88 1121.2 417.4)"/>
<rect x="1700.8" y="683.0" width="7.0" height="7.6" fill="#fff" transform="rotate(-84 1704.3 686.8)"/>
<rect x="1434.2" y="397.2" width="7.0" height="7.6" fill="#fff" transform="rotate(-88 1437.7 401.0)"/>
<rect x="802.5" y="497.9" width="7.0" height="7.6" fill="#fff" transform="rotate(-83 806.0 501.7)"/>
<rect x="1191.8" y="534.5" width="7.0" height="7.6" fill="#f00" transform="rotate(-86 1195.3 538.3)"/>
<rect x="1164.0" y="413.4" width="7.0" height="7.6" fill="#fff" transform="rotate(87 1167.5 417.2)"/>
<rect x="822.5" y="516.5" width="7.0" height="7.6" fill="#fff" transform="rotate(84 826.0 520.3)"/>
<rect x="1431.2" y="496.2" width="7.0" height="7.6" fill="#f00" transform="rotate(-88 1434.7 500.0)"/>
<rect x="894.4" y="471.6" width="7.0" height="7.6" fill="#fff" transform="rotate(86 897.9 475.4)"/>
<rect x="297.8" y="412.4" width="7.0" height="7.6" fill="#fff" transform="rotate(-85 301.3 416.2)"/>
<rect x="322.6" y="429.7" width="7.0" height="7.6" fill="#fff" transform="rotate(86 326.1 433.5)"/>
<rect x="306.3" y="450.8" width="7.0" height="7.6" fill="#f00" transform="rotate(-86 309.8 454.6)"/>
<rect x="167.6" y="410.1" width="7.0" height="7.6" fill="#f00" transform="rotate(-74 171.1 413.9)"/>
<rect x="502.1" y="443.3" width="7.0" height="7.6" fill="#f00" transform="rotate(85 505.6 447.1)"/>
<rect x="1126.6" y="404.1" width="7.0" height="7.6" fill="#f00" transform="rotate(-87 1130.1 407.9)"/>
<rect x="1210.3" y="440.5" width="7.0" height="7.6" fill="#fff" transform="rotate(84 1213.8 444.3)"/>
<rect x="1159.7" y="416.4" width="7.0" height="7.6" fill="#fff" transform="rotate(-87 1163.2 420.2)"/>
<rect x="1173.1" y="383.8" width="7.0" height="7.6" fill="#fff" transform="rotate(-86 1176.6 387.6)"/>
<rect x="834.2" y="506.1" width="7.0" height="7.6" fill="#f00" transform="rotate(70 837.7 509.9)"/>
<rect x="1109.1" y="473.8" width="7.0" height="7.6" fill="#fff" transform="rotate(87 1112.6 477.6)"/>
<rect x="411.9" y="450.4" width="7.0" height="7.6" fill="#f00" transform="rotate(75 415.4 454.2)"/>
<rect x="848.4" y="473.6" width="7.0" height="7.6" fill="#f00" transform="rotate(-86 851.9 477.4)"/>
<rect x="978.8" y="548.4" width="7.0" height="7.6" fill="#fff" transform="rotate(87 982.3 552.2)"/>
<rect x="355.6" y="468.3" width="7.0" height="7.6" fill="#f00" transform="rotate(-85 359.1 472.1)"/>
<rect x="1216.4" y="476.5" width="7.0" height="7.6" fill="#fff" transform="rotate(-86 1219.9 480.3)"/>
<rect x="539.0" y="499.0" width="7.0" height="7.6" fill="#f00" transform="rotate(84 542.5 502.8)"/>
<rect x="1020.3" y="473.5" width="7.0" height="7.6" fill="#fff" transform="rotate(-86 1023.8 477.3)"/>
<rect x="326.2" y="479.1" width="7.0" height="7.6" fill="#fff" transform="rotate(86 329.7 482.9)"/>
<rect x="1428.8" y="496.3" width="7.0" height="7.6" fill="#f00" transform="rotate(88 1432.3 500.1)"/>
<rect x="540.8" y="515.4" width="7.0" height="7.6" fill="#fff" transform="rotate(84 544.3 519.2)"/>
<rect x="1208.8" y="456.3" width="7.0" height="7.6" fill="#fff" transform="rotate(-85 1212.3 460.1)"/>
<rect x="1715.9" y="621.6" width="7.0" height="7.6" fill="#f00" transform="rotate(-88 1719.4 625.4)"/>
<rect x="1682.7" y="670.9" width="7.0" height="7.6" fill="#f00" transform="rotate(-86 1686.2 674.7)"/>
<rect x="1385.3" y="447.9" width="7.0" height="7.6" fill="#fff" transform="rotate(-88 1388.8 451.7)"/>
<rect x="1639.2" y="676.3" width="7.0" height="7.6" fill="#f00" transform="rotate(-87 1642.7 680.1)"/>
<rect x="1516.9" y="433.2" width="7.0" height="7.6" fill="#f00" transform="rotate(-84 1520.4 437.0)"/>
<rect x="264.3" y="155.7" width="7.0" height="7.6" fill="#f00" transform="rotate(-87 267.8 159.5)"/>
<rect x="973.1" y="451.4" width="7.0" height="7.6" fill="#fff" transform="rotate(-84 976.6 455.2)"/>
<rect x="1416.1" y="440.4" width="7.0" height="7.6" fill="#f00" transform="rotate(88 1419.6 444.2)"/>
<rect x="793.2" y="487.9" width="7.0" height="7.6" fill="#f00" transform="rotate(-84 796.7 491.7)"/>
<rect x="1200.9" y="492.8" width="7.0" height="7.6" fill="#f00" transform="rotate(84 1204.4 496.6)"/>
<rect x="1651.2" y="620.7" width="7.0" height="7.6" fill="#f00" transform="rotate(88 1654.7 624.5)"/>
<rect x="1561.6" y="450.7" width="7.0" height="7.6" fill="#fff" transform="rotate(88 1565.1 454.5)"/>
<rect x="1113.0" y="431.2" width="7.0" height="7.6" fill="#f00" transform="rotate(-88 1116.5 435.0)"/>
<rect x="303.7" y="445.3" width="7.0" height="7.6" fill="#fff" transform="rotate(85 307.2 449.1)"/>
<rect x="487.7" y="436.2" width="7.0" height="7.6" fill="#fff" transform="rotate(-86 491.2 440.0)"/>
<rect x="1103.0" y="423.0" width="7.0" height="7.6" fill="#fff" transform="rotate(-88 1106.5 426.8)"/>
<rect x="869.0" y="469.5" width="7.0" height="7.6" fill="#f00" transform="rotate(85 872.5 473.3)"/>
<rect x="727.9" y="452.2" width="7.0" height="7.6" fill="#fff" transform="rotate(79 731.4 456.0)"/>
<rect x="1600.8" y="371.9" width="7.0" height="7.6" fill="#fff" transform="rotate(-84 1604.3 375.7)"/>
<rect x="1657.7" y="652.9" width="7.0" height="7.6" fill="#fff" transform="rotate(-87 1661.2 656.7)"/>
<rect x="349.0" y="501.6" width="7.0" height="7.6" fill="#f00" transform="rotate(70 352.5 505.4)"/>
<rect x="1442.0" y="441.9" width="7.0" height="7.6" fill="#fff" transform="rotate(-84 1445.5 445.7)"/>
<rect x="693.0" y="450.4" width="7.0" height="7.6" fill="#f00" transform="rotate(85 696.5 454.2)"/>
<rect x="517.2" y="475.6" width="7.0" height="7.6" fill="#f00" transform="rotate(81 520.7 479.4)"/>
<rect x="1409.6" y="493.4" width="7.0" height="7.6" fill="#fff" transform="rotate(-87 1413.1 497.2)"/>
<rect x="158.3" y="524.9" width="7.0" height="7.6" fill="#f00" transform="rotate(-85 161.8 528.7)"/>
<rect x="1526.5" y="435.6" width="7.0" height="7.6" fill="#f00" transform="rotate(-85 1530.0 439.4)"/>
<rect x="1362.6" y="420.1" width="7.0" height="7.6" fill="#f00" transform="rotate(-86 1366.1 423.9)"/>
<rect x="250.0" y="147.6" width="7.0" height="7.6" fill="#f00" transform="rotate(-86 253.5 151.4)"/>
<rect x="1118.9" y="446.6" width="7.0" height="7.6" fill="#f00" transform="rotate(88 1122.4 450.4)"/>
<rect x="855.7" y="462.2" width="7.0" height="7.6" fill="#fff" transform="rotate(86 859.2 466.0)"/>
<rect x="206.6" y="175.1" width="7.0" height="7.6" fill="#fff" transform="rotate(-84 210.1 178.9)"/>
<rect x="961.8" y="447.2" width="7.0" height="7.6" fill="#fff" transform="rotate(81 965.3 451.0)"/>
<rect x="1680.6" y="703.9" width="7.0" height="7.6" fill="#f00" transform="rotate(-86 1684.1 707.7)"/>
<rect x="940.9" y="470.8" width="7.0" height="7.6" fill="#fff" transform="rotate(87 944.4 474.6)"/>
<rect x="674.1" y="481.6" width="7.0" height="7.6" fill="#fff" transform="rotate(-86 677.6 485.4)"/>
<rect x="621.1" y="493.3" width="7.0" height="7.6" fill="#fff" transform="rotate(85 624.6 497.1)"/>
<rect x="1325.7" y="439.1" width="7.0" height="7.6" fill="#f00" transform="rotate(-84 1329.2 442.9)"/>
<rect x="956.2" y="482.2" width="7.0" height="7.6" fill="#fff" transform="rotate(-84 959.7 486.0)"/>
<rect x="1502.4" y="448.6" width="7.0" height="7.6" fill="#f00" transform="rotate(-85 1505.9 452.4)"/>
<rect x="1440.4" y="443.4" width="7.0" height="7.6" fill="#f00" transform="rotate(85 1443.9 447.2)"/>
<rect x="754.5" y="476.3" width="7.0" height="7.6" fill="#fff" transform="rotate(79 758.0 480.1)"/>
<rect x="527.4" y="445.3" width="7.0" height="7.6" fill="#fff" transform="rotate(87 530.9 449.1)"/>
<rect x="849.4" y="457.1" width="7.0" height="7.6" fill="#fff" transform="rotate(-86 852.9 460.9)"/>
<rect x="1001.6" y="466.8" width="7.0" height="7.6" fill="#f00" transform="rotate(86 1005.1 470.6)"/>
<rect x="252.8" y="170.1" width="7.0" height="7.6" fill="#f00" transform="rotate(85 256.3 173.9)"/>
<rect x="991.3" y="531.9" width="7.0" height="7.6" fill="#f00" transform="rotate(87 994.8 535.7)"/>
<rect x="1498.8" y="413.2" width="7.0" height="7.6" fill="#fff" transform="rotate(88 1502.3 417.0)"/>
<rect x="1090.3" y="451.4" width="7.0" height="7.6" fill="#fff" transform="rotate(-86 1093.8 455.2)"/>
<rect x="1106.7" y="424.3" width="7.0" height="7.6" fill="#fff" transform="rotate(87 1110.2 428.1)"/>
<rect x="1112.1" y="464.2" width="7.0" height="7.6" fill="#fff" transform="rotate(-88 1115.6 468.0)"/>
<rect x="1675.1" y="661.2" width="7.0" height="7.6" fill="#fff" transform="rotate(-82 1678.6 665.0)"/>
<rect x="1524.5" y="423.8" width="7.0" height="7.6" fill="#f00" transform="rotate(83 1528.0 427.6)"/>
<rect x="908.2" y="501.5" width="7.0" height="7.6" fill="#fff" transform="rotate(87 911.7 505.3)"/>
<rect x="602.4" y="482.8" width="7.0" height="7.6" fill="#f00" transform="rotate(-83 605.9 486.6)"/>
<rect x="1185.1" y="380.1" width="7.0" height="7.6" fill="#fff" transform="rotate(88 1188.6 383.9)"/>
<rect x="1131.3" y="457.3" width="7.0" height="7.6" fill="#fff" transform="rotate(87 1134.8 461.1)"/>
<rect x="1116.5" y="380.7" width="7.0" height="7.6" fill="#fff" transform="rotate(88 1120.0 384.5)"/>
<rect x="640.2" y="436.2" width="7.0" height="7.6" fill="#fff" transform="rotate(-80 643.7 440.0)"/>
<rect x="1314.4" y="434.3" width="7.0" height="7.6" fill="#fff" transform="rotate(-87 1317.9 438.1)"/>
<rect x="476.7" y="387.0" width="7.0" height="7.6" fill="#fff" transform="rotate(-85 480.2 390.8)"/>
<rect x="371.0" y="451.9" width="7.0" height="7.6" fill="#fff" transform="rotate(80 374.5 455.7)"/>
<rect x="1124.8" y="437.0" width="7.0" height="7.6" fill="#fff" transform="rotate(-87 1128.3 440.8)"/>
<rect x="1555.4" y="323.1" width="7.0" height="7.6" fill="#fff" transform="rotate(-87 1558.9 326.9)"/>
<rect x="1426.6" y="446.9" width="7.0" height="7.6" fill="#f00" transform="rotate(88 1430.1 450.7)"/>
<rect x="1559.9" y="401.2" width="7.0" height="7.6" fill="#fff" transform="rotate(88 1563.4 405.0)"/>
<rect x="1582.3" y="425.2" width="7.0" height="7.6" fill="#fff" transform="rotate(86 1585.8 429.0)"/>
<rect x="920.4" y="502.1" width="7.0" height="7.6" fill="#fff" transform="rotate(87 923.9 505.9)"/>
<rect x="1114.3" y="381.7" width="7.0" height="7.6" fill="#f00" transform="rotate(-88 1117.8 385.5)"/>
<rect x="1449.4" y="434.4" width="7.0" height="7.6" fill="#fff" transform="rotate(86 1452.9 438.2)"/>
<rect x="1458.2" y="442.2" width="7.0" height="7.6" fill="#fff" transform="rotate(-82 1461.7 446.0)"/>
<rect x="1396.9" y="466.4" width="7.0" height="7.6" fill="#fff" transform="rotate(-84 1400.4 470.2)"/>
<rect x="1688.0" y="693.6" width="7.0" height="7.6" fill="#fff" transform="rotate(85 1691.5 697.4)"/>
<rect x="1404.4" y="424.2" width="7.0" height="7.6" fill="#fff" transform="rotate(86 1407.9 428.0)"/>
<rect x="1697.2" y="711.0" width="7.0" height="7.6" fill="#f00" transform="rotate(85 1700.7 714.8)"/>
<rect x="1430.7" y="512.7" width="7.0" height="7.6" fill="#f00" transform="rotate(-88 1434.2 516.5)"/>
<rect x="1342.5" y="452.2" width="7.0" height="7.6" fill="#fff" transform="rotate(78 1346.0 456.0)"/>
<rect x="1683.7" y="654.5" width="7.0" height="7.6" fill="#fff" transform="rotate(-86 1687.2 658.3)"/>
<rect x="1129.0" y="407.8" width="7.0" height="7.6" fill="#fff" transform="rotate(87 1132.5 411.6)"/>
<rect x="228.2" y="182.5" width="7.0" height="7.6" fill="#f00" transform="rotate(86 231.7 186.3)"/>
<rect x="368.7" y="450.5" width="7.0" height="7.6" fill="#f00" transform="rotate(-84 372.2 454.3)"/>
<rect x="964.5" y="463.5" width="7.0" height="7.6" fill="#fff" transform="rotate(81 968.0 467.3)"/>
<rect x="1215.3" y="489.7" width="7.0" height="7.6" fill="#f00" transform="rotate(84 1218.8 493.5)"/>
<rect x="1019.2" y="489.9" width="7.0" height="7.6" fill="#fff" transform="rotate(-86 1022.7 493.7)"/>
<rect x="465.7" y="379.3" width="7.0" height="7.6" fill="#f00" transform="rotate(86 469.2 383.1)"/>
<rect x="537.1" y="482.6" width="7.0" height="7.6" fill="#f00" transform="rotate(84 540.6 486.4)"/>
<rect x="995.8" y="481.1" width="7.0" height="7.6" fill="#f00" transform="rotate(-86 999.3 484.9)"/>
<rect x="1540.2" y="398.5" width="7.0" height="7.6" fill="#fff" transform="rotate(-88 1543.7 402.3)"/>
<rect x="1057.7" y="442.4" width="7.0" height="7.6" fill="#fff" transform="rotate(-85 1061.2 446.2)"/>
<rect x="909.9" y="487.6" width="7.0" height="7.6" fill="#fff" transform="rotate(-84 913.4 491.4)"/>
<rect x="1481.6" y="434.3" width="7.0" height="7.6" fill="#fff" transform="rotate(-87 1485.1 438.1)"/>
<rect x="1531.1" y="386.3" width="7.0" height="7.6" fill="#fff" transform="rotate(-85 1534.6 390.1)"/>
<rect x="1348.1" y="459.5" width="7.0" height="7.6" fill="#fff" transform="rotate(-84 1351.6 463.3)"/>
<rect x="1392.1" y="418.6" width="7.0" height="7.6" fill="#f00" transform="rotate(87 1395.6 422.4)"/>
<rect x="987.5" y="466.0" width="7.0" height="7.6" fill="#f00" transform="rotate(87 991.0 469.8)"/>
<rect x="905.6" y="452.1" width="7.0" height="7.6" fill="#f00" transform="rotate(87 909.1 455.9)"/>
<rect x="981.7" y="500.7" width="7.0" height="7.6" fill="#f00" transform="rotate(-87 985.2 504.5)"/>
<rect x="946.9" y="474.3" width="7.0" height="7.6" fill="#fff" transform="rotate(-87 950.4 478.1)"/>
<rect x="1678.7" y="690.5" width="7.0" height="7.6" fill="#fff" transform="rotate(87 1682.2 694.3)"/>
<rect x="998.1" y="448.2" width="7.0" height="7.6" fill="#f00" transform="rotate(-86 1001.6 452.0)"/>
<rect x="1067.6" y="444.8" width="7.0" height="7.6" fill="#f00" transform="rotate(-85 1071.1 448.6)"/>
<rect x="915.1" y="438.3" width="7.0" height="7.6" fill="#fff" transform="rotate(-84 918.6 442.1)"/>
<rect x="1662.0" y="690.6" width="7.0" height="7.6" fill="#fff" transform="rotate(87 1665.5 694.4)"/>
<rect x="1115.3" y="348.7" width="7.0" height="7.6" fill="#fff" transform="rotate(-88 1118.8 352.5)"/>
<rect x="1413.3" y="411.0" width="7.0" height="7.6" fill="#fff" transform="rotate(-87 1416.8 414.8)"/>
<rect x="967.1" y="479.8" width="7.0" height="7.6" fill="#f00" transform="rotate(81 970.6 483.6)"/>
<rect x="634.2" y="467.5" width="7.0" height="7.6" fill="#fff" transform="rotate(71 637.7 471.3)"/>
<rect x="403.9" y="452.8" width="7.0" height="7.6" fill="#f00" transform="rotate(-86 407.4 456.6)"/>
<rect x="1186.4" y="413.1" width="7.0" height="7.6" fill="#f00" transform="rotate(88 1189.9 416.9)"/>
<rect x="152.8" y="574.1" width="7.0" height="7.6" fill="#f00" transform="rotate(-83 156.3 577.9)"/>
<rect x="428.7" y="405.1" width="7.0" height="7.6" fill="#f00" transform="rotate(-83 432.2 408.9)"/>
<rect x="1605.1" y="440.9" width="7.0" height="7.6" fill="#f00" transform="rotate(90 1608.6 444.7)"/>
<rect x="1641.0" y="643.3" width="7.0" height="7.6" fill="#fff" transform="rotate(-87 1644.5 647.1)"/>
<rect x="1371.8" y="487.4" width="7.0" height="7.6" fill="#f00" transform="rotate(85 1375.3 491.2)"/>
<rect x="307.4" y="434.3" width="7.0" height="7.6" fill="#fff" transform="rotate(-86 310.9 438.1)"/>
<rect x="296.4" y="428.8" width="7.0" height="7.6" fill="#fff" transform="rotate(-85 299.9 432.6)"/>
<rect x="1316.2" y="403.1" width="7.0" height="7.6" fill="#fff" transform="rotate(83 1319.7 406.9)"/>
<rect x="1254.0" y="470.6" width="7.0" height="7.6" fill="#fff" transform="rotate(-82 1257.5 474.4)"/>
<rect x="716.7" y="485.8" width="7.0" height="7.6" fill="#fff" transform="rotate(87 720.2 489.6)"/>
<rect x="1194.0" y="501.6" width="7.0" height="7.6" fill="#fff" transform="rotate(-86 1197.5 505.4)"/>
<rect x="715.8" y="469.3" width="7.0" height="7.6" fill="#fff" transform="rotate(87 719.3 473.1)"/>
<rect x="1053.8" y="491.7" width="7.0" height="7.6" fill="#fff" transform="rotate(-85 1057.3 495.5)"/>
<rect x="473.6" y="419.8" width="7.0" height="7.6" fill="#fff" transform="rotate(-85 477.1 423.6)"/>
<rect x="424.7" y="425.8" width="7.0" height="7.6" fill="#f00" transform="rotate(82 428.2 429.6)"/>
<rect x="1500.3" y="462.7" width="7.0" height="7.6" fill="#fff" transform="rotate(88 1503.8 466.5)"/>
<rect x="1244.4" y="456.2" width="7.0" height="7.6" fill="#fff" transform="rotate(-86 1247.9 460.0)"/>
<rect x="624.7" y="482.7" width="7.0" height="7.6" fill="#fff" transform="rotate(-83 628.2 486.5)"/>
<rect x="1147.9" y="432.9" width="7.0" height="7.6" fill="#fff" transform="rotate(-87 1151.4 436.7)"/>
<rect x="1136.8" y="450.5" width="7.0" height="7.6" fill="#fff" transform="rotate(-87 1140.3 454.3)"/>
<rect x="919.4" y="485.7" width="7.0" height="7.6" fill="#fff" transform="rotate(87 922.9 489.5)"/>
<rect x="1183.9" y="405.7" width="7.0" height="7.6" fill="#fff" transform="rotate(-88 1187.4 409.5)"/>
<rect x="1018.1" y="506.4" width="7.0" height="7.6" fill="#f00" transform="rotate(-86 1021.6 510.2)"/>
<rect x="1179.5" y="521.1" width="7.0" height="7.6" fill="#f00" transform="rotate(-88 1183.0 524.9)"/>
<rect x="1071.2" y="450.4" width="7.0" height="7.6" fill="#fff" transform="rotate(83 1074.7 454.2)"/>
<rect x="800.6" y="504.7" width="7.0" height="7.6" fill="#fff" transform="rotate(86 804.1 508.5)"/>
<rect x="1205.7" y="489.1" width="7.0" height="7.6" fill="#f00" transform="rotate(-85 1209.2 492.9)"/>
<rect x="433.1" y="452.3" width="7.0" height="7.6" fill="#f00" transform="rotate(87 436.6 456.1)"/>
<rect x="975.9" y="482.5" width="7.0" height="7.6" fill="#fff" transform="rotate(87 979.4 486.3)"/>
<rect x="717.7" y="502.3" width="7.0" height="7.6" fill="#fff" transform="rotate(87 721.2 506.1)"/>
<rect x="486.7" y="452.6" width="7.0" height="7.6" fill="#fff" transform="rotate(-86 490.2 456.4)"/>
<rect x="521.3" y="453.9" width="7.0" height="7.6" fill="#f00" transform="rotate(-83 524.8 457.7)"/>
<rect x="1182.0" y="455.2" width="7.0" height="7.6" fill="#fff" transform="rotate(-88 1185.5 459.0)"/>
<rect x="666.7" y="448.7" width="7.0" height="7.6" fill="#fff" transform="rotate(-82 670.2 452.5)"/>
<rect x="1642.9" y="610.4" width="7.0" height="7.6" fill="#f00" transform="rotate(-87 1646.4 614.2)"/>
<rect x="835.9" y="492.5" width="7.0" height="7.6" fill="#f00" transform="rotate(-86 839.4 496.3)"/>
<rect x="162.1" y="475.5" width="7.0" height="7.6" fill="#f00" transform="rotate(-89 165.6 479.3)"/>
<rect x="1445.4" y="409.1" width="7.0" height="7.6" fill="#f00" transform="rotate(-84 1448.9 412.9)"/>
<rect x="1663.3" y="689.3" width="7.0" height="7.6" fill="#f00" transform="rotate(-84 1666.8 693.1)"/>
<rect x="612.9" y="476.6" width="7.0" height="7.6" fill="#f00" transform="rotate(-86 616.4 480.4)"/>
<rect x="1236.5" y="446.7" width="7.0" height="7.6" fill="#f00" transform="rotate(88 1240.0 450.5)"/>
<rect x="1638.1" y="679.6" width="7.0" height="7.6" fill="#fff" transform="rotate(86 1641.6 683.4)"/>
<rect x="988.4" y="482.5" width="7.0" height="7.6" fill="#fff" transform="rotate(87 991.9 486.3)"/>
<rect x="592.5" y="450.3" width="7.0" height="7.6" fill="#fff" transform="rotate(-42 596.0 454.1)"/>
<rect x="395.9" y="482.2" width="7.0" height="7.6" fill="#fff" transform="rotate(80 399.4 486.0)"/>
<rect x="736.5" y="462.3" width="7.0" height="7.6" fill="#fff" transform="rotate(-82 740.0 466.1)"/>
<rect x="1603.9" y="391.5" width="7.0" height="7.6" fill="#f00" transform="rotate(88 1607.4 395.3)"/>
<rect x="762.3" y="477.6" width="7.0" height="7.6" fill="#f00" transform="rotate(84 765.8 481.4)"/>
<rect x="1091.9" y="449.2" width="7.0" height="7.6" fill="#f00" transform="rotate(83 1095.4 453.0)"/>
<rect x="1419.6" y="522.8" width="7.0" height="7.6" fill="#f00" transform="rotate(88 1423.1 526.6)"/>
<rect x="1416.8" y="456.9" width="7.0" height="7.6" fill="#f00" transform="rotate(88 1420.3 460.7)"/>
<rect x="1161.2" y="383.5" width="7.0" height="7.6" fill="#fff" transform="rotate(-87 1164.7 387.3)"/>
<rect x="1238.4" y="496.2" width="7.0" height="7.6" fill="#f00" transform="rotate(88 1241.9 500.0)"/>
<rect x="892.3" y="438.7" width="7.0" height="7.6" fill="#fff" transform="rotate(86 895.8 442.5)"/>
<rect x="1305.5" y="414.0" width="7.0" height="7.6" fill="#fff" transform="rotate(86 1309.0 417.8)"/>
<rect x="1434.7" y="380.7" width="7.0" height="7.6" fill="#fff" transform="rotate(-88 1438.2 384.5)"/>
<rect x="1202.6" y="509.2" width="7.0" height="7.6" fill="#fff" transform="rotate(84 1206.1 513.0)"/>
<rect x="886.5" y="468.6" width="7.0" height="7.6" fill="#fff" transform="rotate(-87 890.0 472.4)"/>
<rect x="720.7" y="532.6" width="7.0" height="7.6" fill="#fff" transform="rotate(-85 724.2 536.4)"/>
<rect x="217.3" y="148.4" width="7.0" height="7.6" fill="#f00" transform="rotate(83 220.8 152.2)"/>
<rect x="1163.0" y="397.0" width="7.0" height="7.6" fill="#fff" transform="rotate(87 1166.5 400.8)"/>
<rect x="1270.2" y="410.7" width="7.0" height="7.6" fill="#fff" transform="rotate(84 1273.7 414.5)"/>
<rect x="945.3" y="507.3" width="7.0" height="7.6" fill="#f00" transform="rotate(-87 948.8 511.1)"/>
<rect x="1432.2" y="463.2" width="7.0" height="7.6" fill="#fff" transform="rotate(-88 1435.7 467.0)"/>
<rect x="1235.8" y="430.2" width="7.0" height="7.6" fill="#fff" transform="rotate(88 1239.3 434.0)"/>
<rect x="857.8" y="495.1" width="7.0" height="7.6" fill="#fff" transform="rotate(86 861.3 498.9)"/>
<rect x="975.1" y="466.0" width="7.0" height="7.6" fill="#fff" transform="rotate(87 978.6 469.8)"/>
<rect x="488.7" y="421.1" width="7.0" height="7.6" fill="#fff" transform="rotate(86 492.2 424.9)"/>
<rect x="257.1" y="149.4" width="7.0" height="7.6" fill="#f00" transform="rotate(-87 260.6 153.2)"/>
<rect x="600.3" y="499.1" width="7.0" height="7.6" fill="#f00" transform="rotate(-83 603.8 502.9)"/>
<rect x="1581.2" y="408.7" width="7.0" height="7.6" fill="#f00" transform="rotate(86 1584.7 412.5)"/>
<rect x="691.7" y="433.9" width="7.0" height="7.6" fill="#f00" transform="rotate(85 695.2 437.7)"/>
<rect x="426.8" y="421.5" width="7.0" height="7.6" fill="#f00" transform="rotate(-83 430.3 425.3)"/>
<rect x="1652.5" y="653.7" width="7.0" height="7.6" fill="#f00" transform="rotate(88 1656.0 657.5)"/>
<rect x="1009.0" y="450.8" width="7.0" height="7.6" fill="#fff" transform="rotate(-87 1012.5 454.6)"/>
<rect x="1450.6" y="450.9" width="7.0" height="7.6" fill="#fff" transform="rotate(86 1454.1 454.7)"/>
<rect x="863.5" y="444.7" width="7.0" height="7.6" fill="#f00" transform="rotate(-86 867.0 448.5)"/>
<rect x="923.4" y="508.8" width="7.0" height="7.6" fill="#fff" transform="rotate(-86 926.9 512.6)"/>
<rect x="980.7" y="517.1" width="7.0" height="7.6" fill="#fff" transform="rotate(-87 984.2 520.9)"/>
<rect x="1132.0" y="473.7" width="7.0" height="7.6" fill="#fff" transform="rotate(87 1135.5 477.5)"/>
<rect x="1363.7" y="403.7" width="7.0" height="7.6" fill="#fff" transform="rotate(-86 1367.2 407.5)"/>
<rect x="418.3" y="413.5" width="7.0" height="7.6" fill="#f00" transform="rotate(-84 421.8 417.3)"/>
<rect x="1628.5" y="690.3" width="7.0" height="7.6" fill="#fff" transform="rotate(86 1632.0 694.1)"/>
<rect x="1295.3" y="458.3" width="7.0" height="7.6" fill="#fff" transform="rotate(81 1298.8 462.1)"/>
<rect x="703.1" y="454.5" width="7.0" height="7.6" fill="#fff" transform="rotate(-76 706.6 458.3)"/>
<rect x="714.9" y="452.9" width="7.0" height="7.6" fill="#fff" transform="rotate(87 718.4 456.7)"/>
<rect x="1484.3" y="384.9" width="7.0" height="7.6" fill="#fff" transform="rotate(-87 1487.8 388.7)"/>
<rect x="1097.8" y="498.4" width="7.0" height="7.6" fill="#f00" transform="rotate(83 1101.3 502.2)"/>
<rect x="1055.1" y="475.3" width="7.0" height="7.6" fill="#fff" transform="rotate(-85 1058.6 479.1)"/>
<rect x="921.4" y="518.6" width="7.0" height="7.6" fill="#fff" transform="rotate(87 924.9 522.4)"/>
<rect x="1699.0" y="699.4" width="7.0" height="7.6" fill="#f00" transform="rotate(-84 1702.5 703.2)"/>
<rect x="1467.8" y="473.6" width="7.0" height="7.6" fill="#f00" transform="rotate(-81 1471.3 477.4)"/>
<rect x="971.3" y="467.8" width="7.0" height="7.6" fill="#fff" transform="rotate(-84 974.8 471.6)"/>
<rect x="1568.7" y="401.9" width="7.0" height="7.6" fill="#f00" transform="rotate(86 1572.2 405.7)"/>
<rect x="1393.7" y="451.6" width="7.0" height="7.6" fill="#f00" transform="rotate(87 1397.2 455.4)"/>
<rect x="574.3" y="515.6" width="7.0" height="7.6" fill="#fff" transform="rotate(-85 577.8 519.4)"/>
<rect x="1658.6" y="636.4" width="7.0" height="7.6" fill="#f00" transform="rotate(-87 1662.1 640.2)"/>
<rect x="952.3" y="465.4" width="7.0" height="7.6" fill="#f00" transform="rotate(83 955.8 469.2)"/>
<rect x="1476.9" y="472.7" width="7.0" height="7.6" fill="#fff" transform="rotate(83 1480.4 476.5)"/>
<rect x="854.7" y="445.7" width="7.0" height="7.6" fill="#f00" transform="rotate(86 858.2 449.5)"/>
<rect x="1604.6" y="407.9" width="7.0" height="7.6" fill="#f00" transform="rotate(88 1608.1 411.7)"/>
<rect x="982.6" y="484.2" width="7.0" height="7.6" fill="#fff" transform="rotate(-87 986.1 488.0)"/>
<rect x="1182.6" y="438.7" width="7.0" height="7.6" fill="#fff" transform="rotate(-88 1186.1 442.5)"/>
<rect x="1788.6" y="463.3" width="7.0" height="7.6" fill="#f00" transform="rotate(2 1792.1 467.1)"/>
<rect x="1023.9" y="468.6" width="7.0" height="7.6" fill="#f00" transform="rotate(88 1027.4 472.4)"/>
<rect x="1112.5" y="447.7" width="7.0" height="7.6" fill="#fff" transform="rotate(-88 1116.0 451.5)"/>
<rect x="1647.8" y="691.8" width="7.0" height="7.6" fill="#f00" transform="rotate(-88 1651.3 695.6)"/>
<rect x="1637.0" y="663.1" width="7.0" height="7.6" fill="#f00" transform="rotate(86 1640.5 666.9)"/>
<rect x="1169.0" y="449.7" width="7.0" height="7.6" fill="#fff" transform="rotate(-86 1172.5 453.5)"/>
<rect x="305.1" y="461.7" width="7.0" height="7.6" fill="#fff" transform="rotate(85 308.6 465.5)"/>
<rect x="818.9" y="483.7" width="7.0" height="7.6" fill="#fff" transform="rotate(84 822.4 487.5)"/>
<rect x="1681.6" y="687.4" width="7.0" height="7.6" fill="#f00" transform="rotate(-86 1685.1 691.2)"/>
<rect x="248.8" y="164.0" width="7.0" height="7.6" fill="#fff" transform="rotate(-86 252.3 167.8)"/>
<rect x="162.3" y="459.0" width="7.0" height="7.6" fill="#f00" transform="rotate(-89 165.8 462.8)"/>
<rect x="242.4" y="143.5" width="7.0" height="7.6" fill="#f00" transform="rotate(84 245.9 147.3)"/>
<rect x="1370.4" y="471.0" width="7.0" height="7.6" fill="#fff" transform="rotate(85 1373.9 474.8)"/>
<rect x="1586.5" y="425.4" width="7.0" height="7.6" fill="#fff" transform="rotate(-87 1590.0 429.2)"/>
<rect x="1549.5" y="421.9" width="7.0" height="7.6" fill="#fff" transform="rotate(-87 1553.0 425.7)"/>
<rect x="1424.5" y="397.4" width="7.0" height="7.6" fill="#f00" transform="rotate(88 1428.0 401.2)"/>
<rect x="546.4" y="466.3" width="7.0" height="7.6" fill="#fff" transform="rotate(83 549.9 470.1)"/>
<rect x="215.3" y="163.6" width="7.0" height="7.6" fill="#f00" transform="rotate(-83 218.8 167.4)"/>
<rect x="561.7" y="510.1" width="7.0" height="7.6" fill="#f00" transform="rotate(-81 565.2 513.9)"/>
<rect x="1551.5" y="389.0" width="7.0" height="7.6" fill="#fff" transform="rotate(-87 1555.0 392.8)"/>
<rect x="264.9" y="161.9" width="7.0" height="7.6" fill="#f00" transform="rotate(90 268.4 165.7)"/>
<rect x="1584.5" y="458.1" width="7.0" height="7.6" fill="#f00" transform="rotate(86 1588.0 461.9)"/>
<rect x="1387.9" y="381.9" width="7.0" height="7.6" fill="#fff" transform="rotate(-88 1391.4 385.7)"/>
<rect x="308.5" y="417.9" width="7.0" height="7.6" fill="#fff" transform="rotate(-86 312.0 421.7)"/>
<rect x="560.1" y="493.8" width="7.0" height="7.6" fill="#fff" transform="rotate(84 563.6 497.6)"/>
<rect x="885.6" y="485.1" width="7.0" height="7.6" fill="#fff" transform="rotate(-87 889.1 488.9)"/>
<rect x="1008.1" y="467.3" width="7.0" height="7.6" fill="#fff" transform="rotate(-87 1011.6 471.1)"/>
<rect x="1590.5" y="359.5" width="7.0" height="7.6" fill="#fff" transform="rotate(-87 1594.0 363.3)"/>
<rect x="643.3" y="430.7" width="7.0" height="7.6" fill="#fff" transform="rotate(78 646.8 434.5)"/>
<rect x="1436.0" y="394.1" width="7.0" height="7.6" fill="#fff" transform="rotate(85 1439.5 397.9)"/>
<rect x="1184.5" y="389.2" width="7.0" height="7.6" fill="#f00" transform="rotate(-88 1188.0 393.0)"/>
<rect x="1556.3" y="306.6" width="7.0" height="7.6" fill="#fff" transform="rotate(-87 1559.8 310.4)"/>
<rect x="889.3" y="419.2" width="7.0" height="7.6" fill="#f00" transform="rotate(-87 892.8 423.0)"/>
<rect x="1631.7" y="658.3" width="7.0" height="7.6" fill="#fff" transform="rotate(-85 1635.2 662.1)"/>
<rect x="1172.1" y="400.3" width="7.0" height="7.6" fill="#fff" transform="rotate(-86 1175.6 404.1)"/>
<rect x="1045.7" y="481.4" width="7.0" height="7.6" fill="#fff" transform="rotate(-83 1049.2 485.2)"/>
<rect x="1552.4" y="372.5" width="7.0" height="7.6" fill="#f00" transform="rotate(-87 1555.9 376.3)"/>
<rect x="1417.5" y="473.4" width="7.0" height="7.6" fill="#fff" transform="rotate(88 1421.0 477.2)"/>
<rect x="1491.0" y="421.5" width="7.0" height="7.6" fill="#fff" transform="rotate(-85 1494.5 425.3)"/>
<rect x="614.2" y="460.2" width="7.0" height="7.6" fill="#fff" transform="rotate(-86 617.7 464.0)"/>
<rect x="1271.8" y="427.1" width="7.0" height="7.6" fill="#fff" transform="rotate(84 1275.3 430.9)"/>
<rect x="1374.0" y="441.6" width="7.0" height="7.6" fill="#f00" transform="rotate(-88 1377.5 445.4)"/>
<rect x="844.5" y="473.1" width="7.0" height="7.6" fill="#fff" transform="rotate(87 848.0 476.9)"/>
<rect x="1154.9" y="490.9" width="7.0" height="7.6" fill="#fff" transform="rotate(85 1158.4 494.7)"/>
<rect x="343.8" y="496.6" width="7.0" height="7.6" fill="#fff" transform="rotate(-75 347.3 500.4)"/>
<rect x="360.4" y="451.0" width="7.0" height="7.6" fill="#f00" transform="rotate(84 363.9 454.8)"/>
<rect x="974.4" y="449.5" width="7.0" height="7.6" fill="#fff" transform="rotate(87 977.9 453.3)"/>
<rect x="496.0" y="468.6" width="7.0" height="7.6" fill="#fff" transform="rotate(-85 499.5 472.4)"/>
<rect x="1579.0" y="375.8" width="7.0" height="7.6" fill="#fff" transform="rotate(86 1582.5 379.6)"/>
<rect x="646.6" y="446.9" width="7.0" height="7.6" fill="#fff" transform="rotate(78 650.1 450.7)"/>
<rect x="392.7" y="472.4" width="7.0" height="7.6" fill="#fff" transform="rotate(-73 396.2 476.2)"/>
<rect x="229.7" y="182.3" width="7.0" height="7.6" fill="#fff" transform="rotate(-84 233.2 186.1)"/>
<rect x="339.5" y="509.8" width="7.0" height="7.6" fill="#f00" transform="rotate(78 343.0 513.6)"/>
<rect x="1666.8" y="656.5" width="7.0" height="7.6" fill="#f00" transform="rotate(-84 1670.3 660.3)"/>
<rect x="1625.1" y="640.9" width="7.0" height="7.6" fill="#fff" transform="rotate(86 1628.6 644.7)"/>
<rect x="695.7" y="483.3" width="7.0" height="7.6" fill="#fff" transform="rotate(85 699.2 487.1)"/>
<rect x="1633.2" y="641.9" width="7.0" height="7.6" fill="#f00" transform="rotate(-85 1636.7 645.7)"/>
<rect x="472.1" y="436.3" width="7.0" height="7.6" fill="#fff" transform="rotate(-85 475.6 440.1)"/>
<rect x="469.4" y="428.7" width="7.0" height="7.6" fill="#fff" transform="rotate(86 472.9 432.5)"/>
<rect x="482.7" y="499.4" width="7.0" height="7.6" fill="#fff" transform="rotate(87 486.2 503.2)"/>
<rect x="1420.7" y="524.5" width="7.0" height="7.6" fill="#f00" transform="rotate(-88 1424.2 528.3)"/>
<rect x="363.8" y="483.8" width="7.0" height="7.6" fill="#fff" transform="rotate(84 367.3 487.6)"/>
<rect x="713.1" y="468.3" width="7.0" height="7.6" fill="#fff" transform="rotate(-87 716.6 472.1)"/>
<rect x="1245.5" y="439.7" width="7.0" height="7.6" fill="#f00" transform="rotate(-86 1249.0 443.5)"/>
<rect x="1061.8" y="472.3" width="7.0" height="7.6" fill="#fff" transform="rotate(85 1065.3 476.1)"/>
<rect x="145.5" y="588.7" width="7.0" height="7.6" fill="#f00" transform="rotate(-61 149.0 592.5)"/>
<rect x="723.5" y="499.7" width="7.0" height="7.6" fill="#fff" transform="rotate(-85 727.0 503.5)"/>
<rect x="947.7" y="457.8" width="7.0" height="7.6" fill="#fff" transform="rotate(-87 951.2 461.6)"/>
<rect x="477.6" y="400.6" width="7.0" height="7.6" fill="#fff" transform="rotate(87 481.1 404.4)"/>
<rect x="1585.5" y="441.8" width="7.0" height="7.6" fill="#f00" transform="rotate(-87 1589.0 445.6)"/>
<rect x="1191.0" y="528.5" width="7.0" height="7.6" fill="#fff" transform="rotate(88 1194.5 532.3)"/>
<rect x="1367.7" y="438.1" width="7.0" height="7.6" fill="#f00" transform="rotate(85 1371.2 441.9)"/>
<rect x="839.6" y="443.1" width="7.0" height="7.6" fill="#fff" transform="rotate(-86 843.1 446.9)"/>
<rect x="622.7" y="499.1" width="7.0" height="7.6" fill="#fff" transform="rotate(-83 626.2 502.9)"/>
<rect x="604.6" y="475.0" width="7.0" height="7.6" fill="#fff" transform="rotate(80 608.1 478.8)"/>
<rect x="992.4" y="530.5" width="7.0" height="7.6" fill="#fff" transform="rotate(-86 995.9 534.3)"/>
<rect x="1428.0" y="479.9" width="7.0" height="7.6" fill="#fff" transform="rotate(88 1431.5 483.7)"/>
<rect x="597.1" y="497.9" width="7.0" height="7.6" fill="#f00" transform="rotate(85 600.6 501.7)"/>
<rect x="1248.4" y="466.0" width="7.0" height="7.6" fill="#f00" transform="rotate(85 1251.9 469.8)"/>
<rect x="434.1" y="468.7" width="7.0" height="7.6" fill="#fff" transform="rotate(87 437.6 472.5)"/>
<rect x="1207.2" y="472.7" width="7.0" height="7.6" fill="#f00" transform="rotate(-85 1210.7 476.5)"/>
<rect x="416.5" y="429.9" width="7.0" height="7.6" fill="#fff" transform="rotate(-84 420.0 433.7)"/>
<rect x="766.0" y="510.4" width="7.0" height="7.6" fill="#fff" transform="rotate(84 769.5 514.2)"/>
<rect x="1104.4" y="390.0" width="7.0" height="7.6" fill="#fff" transform="rotate(-88 1107.9 393.8)"/>
<rect x="176.3" y="345.0" width="7.0" height="7.6" fill="#f00" transform="rotate(-87 179.8 348.8)"/>
<rect x="1199.1" y="476.4" width="7.0" height="7.6" fill="#fff" transform="rotate(84 1202.6 480.2)"/>
<rect x="1120.1" y="479.6" width="7.0" height="7.6" fill="#fff" transform="rotate(88 1123.6 483.4)"/>
<rect x="1438.9" y="427.0" width="7.0" height="7.6" fill="#fff" transform="rotate(85 1442.4 430.8)"/>
<rect x="1401.8" y="417.2" width="7.0" height="7.6" fill="#fff" transform="rotate(-84 1405.3 421.0)"/>
<rect x="456.4" y="458.1" width="7.0" height="7.6" fill="#fff" transform="rotate(82 459.9 461.9)"/>
<rect x="1100.8" y="472.5" width="7.0" height="7.6" fill="#f00" transform="rotate(-88 1104.3 476.3)"/>
<rect x="543.6" y="492.4" width="7.0" height="7.6" fill="#fff" transform="rotate(-85 547.1 496.2)"/>
<rect x="1423.5" y="425.5" width="7.0" height="7.6" fill="#f00" transform="rotate(-88 1427.0 429.3)"/>
<rect x="795.0" y="471.5" width="7.0" height="7.6" fill="#fff" transform="rotate(-84 798.5 475.3)"/>
<rect x="512.2" y="443.0" width="7.0" height="7.6" fill="#fff" transform="rotate(81 515.7 446.8)"/>
<rect x="1119.5" y="463.1" width="7.0" height="7.6" fill="#fff" transform="rotate(88 1123.0 466.9)"/>
<rect x="1079.9" y="437.9" width="7.0" height="7.6" fill="#fff" transform="rotate(-85 1083.4 441.7)"/>
<rect x="263.4" y="172.2" width="7.0" height="7.6" fill="#fff" transform="rotate(-87 266.9 176.0)"/>
<rect x="1249.9" y="482.4" width="7.0" height="7.6" fill="#fff" transform="rotate(85 1253.4 486.2)"/>
<rect x="332.5" y="480.2" width="7.0" height="7.6" fill="#fff" transform="rotate(-83 336.0 484.0)"/>
<rect x="1544.1" y="318.8" width="7.0" height="7.6" fill="#fff" transform="rotate(87 1547.6 322.6)"/>
<rect x="481.9" y="483.0" width="7.0" height="7.6" fill="#fff" transform="rotate(87 485.4 486.8)"/>
<rect x="481.0" y="466.5" width="7.0" height="7.6" fill="#fff" transform="rotate(87 484.5 470.3)"/>
<rect x="1073.3" y="466.8" width="7.0" height="7.6" fill="#f00" transform="rotate(83 1076.8 470.6)"/>
<rect x="1615.1" y="515.8" width="7.0" height="7.6" fill="#f00" transform="rotate(107 1618.6 519.6)"/>
<rect x="1542.8" y="316.0" width="7.0" height="7.6" fill="#f00" transform="rotate(-88 1546.3 319.8)"/>
<rect x="738.9" y="446.0" width="7.0" height="7.6" fill="#fff" transform="rotate(-82 742.4 449.8)"/>
<rect x="1499.8" y="446.2" width="7.0" height="7.6" fill="#fff" transform="rotate(88 1503.3 450.0)"/>
<rect x="1137.6" y="434.0" width="7.0" height="7.6" fill="#f00" transform="rotate(-87 1141.1 437.8)"/>
<rect x="1235.2" y="413.7" width="7.0" height="7.6" fill="#fff" transform="rotate(88 1238.7 417.5)"/>
<rect x="452.4" y="443.1" width="7.0" height="7.6" fill="#f00" transform="rotate(-86 455.9 446.9)"/>
<rect x="1297.9" y="474.5" width="7.0" height="7.6" fill="#f00" transform="rotate(81 1301.4 478.3)"/>
<rect x="291.1" y="439.8" width="7.0" height="7.6" fill="#f00" transform="rotate(86 294.6 443.6)"/>
<rect x="1220.6" y="410.6" width="7.0" height="7.6" fill="#f00" transform="rotate(-86 1224.1 414.4)"/>
<rect x="1125.7" y="420.6" width="7.0" height="7.6" fill="#f00" transform="rotate(-87 1129.2 424.4)"/>
<rect x="1124.0" y="453.5" width="7.0" height="7.6" fill="#f00" transform="rotate(-87 1127.5 457.3)"/>
<rect x="494.5" y="485.0" width="7.0" height="7.6" fill="#fff" transform="rotate(-85 498.0 488.8)"/>
<rect x="1268.7" y="422.1" width="7.0" height="7.6" fill="#fff" transform="rotate(-85 1272.2 425.9)"/>
<rect x="1043.7" y="497.8" width="7.0" height="7.6" fill="#fff" transform="rotate(-83 1047.2 501.6)"/>
<rect x="1048.1" y="474.2" width="7.0" height="7.6" fill="#fff" transform="rotate(78 1051.6 478.0)"/>
<rect x="1095.8" y="482.0" width="7.0" height="7.6" fill="#f00" transform="rotate(83 1099.3 485.8)"/>
<rect x="690.3" y="417.5" width="7.0" height="7.6" fill="#fff" transform="rotate(85 693.8 421.3)"/>
<rect x="1359.2" y="469.5" width="7.0" height="7.6" fill="#f00" transform="rotate(-86 1362.7 473.3)"/>
<rect x="1646.0" y="683.1" width="7.0" height="7.6" fill="#fff" transform="rotate(88 1649.5 686.9)"/>
<rect x="1176.4" y="447.2" width="7.0" height="7.6" fill="#fff" transform="rotate(88 1179.9 451.0)"/>
<rect x="891.3" y="422.2" width="7.0" height="7.6" fill="#fff" transform="rotate(86 894.8 426.0)"/>
<rect x="525.3" y="421.2" width="7.0" height="7.6" fill="#f00" transform="rotate(-83 528.8 425.0)"/>
<rect x="1227.4" y="472.4" width="7.0" height="7.6" fill="#fff" transform="rotate(-85 1230.9 476.2)"/>
<rect x="659.8" y="493.9" width="7.0" height="7.6" fill="#fff" transform="rotate(84 663.3 497.7)"/>
<rect x="1462.1" y="451.6" width="7.0" height="7.6" fill="#fff" transform="rotate(84 1465.6 455.4)"/>
<rect x="1576.2" y="423.2" width="7.0" height="7.6" fill="#fff" transform="rotate(-87 1579.7 427.0)"/>
<rect x="1425.2" y="413.9" width="7.0" height="7.6" fill="#fff" transform="rotate(88 1428.7 417.7)"/>
<rect x="1689.5" y="710.0" width="7.0" height="7.6" fill="#fff" transform="rotate(85 1693.0 713.8)"/>
<rect x="880.9" y="477.0" width="7.0" height="7.6" fill="#fff" transform="rotate(83 884.4 480.8)"/>
<rect x="658.1" y="477.5" width="7.0" height="7.6" fill="#fff" transform="rotate(84 661.6 481.3)"/>
<rect x="1224.5" y="429.7" width="7.0" height="7.6" fill="#fff" transform="rotate(87 1228.0 433.5)"/>
<rect x="1447.0" y="401.5" width="7.0" height="7.6" fill="#f00" transform="rotate(86 1450.5 405.3)"/>
<rect x="1078.4" y="454.4" width="7.0" height="7.6" fill="#f00" transform="rotate(-85 1081.9 458.2)"/>
<rect x="866.0" y="436.7" width="7.0" height="7.6" fill="#f00" transform="rotate(85 869.5 440.5)"/>
<rect x="309.6" y="401.4" width="7.0" height="7.6" fill="#fff" transform="rotate(-86 313.1 405.2)"/>
<rect x="1643.6" y="617.1" width="7.0" height="7.6" fill="#fff" transform="rotate(88 1647.1 620.9)"/>
<rect x="1093.9" y="465.6" width="7.0" height="7.6" fill="#fff" transform="rotate(83 1097.4 469.4)"/>
<rect x="1111.6" y="480.7" width="7.0" height="7.6" fill="#fff" transform="rotate(-88 1115.1 484.5)"/>
<rect x="933.3" y="503.3" width="7.0" height="7.6" fill="#fff" transform="rotate(86 936.8 507.1)"/>
<rect x="1710.8" y="670.8" width="7.0" height="7.6" fill="#f00" transform="rotate(-83 1714.3 674.6)"/>
<rect x="1400.2" y="433.6" width="7.0" height="7.6" fill="#fff" transform="rotate(-84 1403.7 437.4)"/>
<rect x="937.5" y="456.4" width="7.0" height="7.6" fill="#fff" transform="rotate(-85 941.0 460.2)"/>
<rect x="1066.1" y="461.2" width="7.0" height="7.6" fill="#fff" transform="rotate(-85 1069.6 465.0)"/>
<rect x="946.1" y="490.8" width="7.0" height="7.6" fill="#f00" transform="rotate(-87 949.6 494.6)"/>
<rect x="1060.4" y="455.9" width="7.0" height="7.6" fill="#f00" transform="rotate(85 1063.9 459.7)"/>
<rect x="1480.6" y="450.8" width="7.0" height="7.6" fill="#f00" transform="rotate(-87 1484.1 454.6)"/>
<rect x="270.2" y="227.0" width="7.0" height="7.6" fill="#f00" transform="rotate(76 273.7 230.8)"/>
<rect x="1425.9" y="430.4" width="7.0" height="7.6" fill="#f00" transform="rotate(88 1429.4 434.2)"/>
<rect x="1331.3" y="430.0" width="7.0" height="7.6" fill="#fff" transform="rotate(83 1334.8 433.8)"/>
<rect x="1310.6" y="479.8" width="7.0" height="7.6" fill="#fff" transform="rotate(86 1314.1 483.6)"/>
<rect x="555.3" y="492.2" width="7.0" height="7.6" fill="#fff" transform="rotate(-85 558.8 496.0)"/>
<rect x="1101.5" y="456.0" width="7.0" height="7.6" fill="#f00" transform="rotate(-88 1105.0 459.8)"/>
<rect x="1609.2" y="502.1" width="7.0" height="7.6" fill="#f00" transform="rotate(51 1612.7 505.9)"/>
<rect x="1665.1" y="672.9" width="7.0" height="7.6" fill="#fff" transform="rotate(-84 1668.6 676.7)"/>
<rect x="1583.4" y="441.6" width="7.0" height="7.6" fill="#f00" transform="rotate(86 1586.9 445.4)"/>
<rect x="1578.1" y="390.2" width="7.0" height="7.6" fill="#fff" transform="rotate(-87 1581.6 394.0)"/>
<rect x="856.8" y="478.6" width="7.0" height="7.6" fill="#fff" transform="rotate(86 860.3 482.4)"/>
<rect x="444.3" y="462.7" width="7.0" height="7.6" fill="#fff" transform="rotate(84 447.8 466.5)"/>
<rect x="1000.4" y="450.4" width="7.0" height="7.6" fill="#fff" transform="rotate(86 1003.9 454.2)"/>
<rect x="1023.2" y="452.1" width="7.0" height="7.6" fill="#f00" transform="rotate(88 1026.7 455.9)"/>
<rect x="1423.0" y="442.0" width="7.0" height="7.6" fill="#fff" transform="rotate(-88 1426.5 445.8)"/>
<rect x="1539.2" y="431.5" width="7.0" height="7.6" fill="#fff" transform="rotate(-88 1542.7 435.3)"/>
<rect x="156.8" y="541.3" width="7.0" height="7.6" fill="#f00" transform="rotate(-85 160.3 545.1)"/>
<rect x="1415.4" y="423.9" width="7.0" height="7.6" fill="#fff" transform="rotate(88 1418.9 427.7)"/>
<rect x="470.6" y="445.2" width="7.0" height="7.6" fill="#f00" transform="rotate(86 474.1 449.0)"/>
<rect x="1279.0" y="431.4" width="7.0" height="7.6" fill="#f00" transform="rotate(-83 1282.5 435.2)"/>
<rect x="1715.2" y="638.1" width="7.0" height="7.6" fill="#f00" transform="rotate(-81 1718.7 641.9)"/>
<rect x="1013.9" y="506.2" width="7.0" height="7.6" fill="#f00" transform="rotate(87 1017.4 510.0)"/>
<rect x="1656.8" y="669.4" width="7.0" height="7.6" fill="#f00" transform="rotate(-87 1660.3 673.2)"/>
<rect x="656.4" y="461.0" width="7.0" height="7.6" fill="#f00" transform="rotate(84 659.9 464.8)"/>
<rect x="1117.1" y="397.1" width="7.0" height="7.6" fill="#fff" transform="rotate(88 1120.6 400.9)"/>
<rect x="1027.5" y="541.2" width="7.0" height="7.6" fill="#fff" transform="rotate(-85 1031.0 545.0)"/>
<rect x="1110.6" y="506.7" width="7.0" height="7.6" fill="#fff" transform="rotate(87 1114.1 510.5)"/>
<rect x="1015.9" y="539.1" width="7.0" height="7.6" fill="#fff" transform="rotate(87 1019.4 542.9)"/>
<rect x="1142.2" y="487.4" width="7.0" height="7.6" fill="#fff" transform="rotate(87 1145.7 491.2)"/>
<rect x="398.7" y="498.4" width="7.0" height="7.6" fill="#fff" transform="rotate(80 402.2 502.2)"/>
<rect x="860.0" y="494.1" width="7.0" height="7.6" fill="#f00" transform="rotate(-86 863.5 497.9)"/>
<rect x="1376.0" y="392.2" width="7.0" height="7.6" fill="#fff" transform="rotate(-88 1379.5 396.0)"/>
<rect x="1405.5" y="440.6" width="7.0" height="7.6" fill="#fff" transform="rotate(86 1409.0 444.4)"/>
<rect x="917.5" y="452.7" width="7.0" height="7.6" fill="#fff" transform="rotate(87 921.0 456.5)"/>
<rect x="610.3" y="507.5" width="7.0" height="7.6" fill="#fff" transform="rotate(80 613.8 511.3)"/>
<rect x="1575.3" y="439.6" width="7.0" height="7.6" fill="#f00" transform="rotate(-87 1578.8 443.4)"/>
<rect x="447.5" y="495.5" width="7.0" height="7.6" fill="#f00" transform="rotate(84 451.0 499.3)"/>
<rect x="1349.8" y="443.1" width="7.0" height="7.6" fill="#fff" transform="rotate(-84 1353.3 446.9)"/>
<rect x="1089.0" y="467.8" width="7.0" height="7.6" fill="#f00" transform="rotate(-86 1092.5 471.6)"/>
<rect x="485.7" y="469.1" width="7.0" height="7.6" fill="#f00" transform="rotate(-86 489.2 472.9)"/>
<rect x="264.6" y="194.9" width="7.0" height="7.6" fill="#f00" transform="rotate(90 268.1 198.7)"/>
<rect x="535.2" y="466.9" width="7.0" height="7.6" fill="#f00" transform="rotate(-76 538.7 470.7)"/>
<rect x="1177.7" y="480.2" width="7.0" height="7.6" fill="#fff" transform="rotate(88 1181.2 484.0)"/>
<rect x="414.7" y="446.3" width="7.0" height="7.6" fill="#f00" transform="rotate(-84 418.2 450.1)"/>
<rect x="1571.0" y="434.8" width="7.0" height="7.6" fill="#fff" transform="rotate(86 1574.5 438.6)"/>
<rect x="1157.6" y="465.9" width="7.0" height="7.6" fill="#fff" transform="rotate(-87 1161.1 469.7)"/>
<rect x="531.3" y="483.0" width="7.0" height="7.6" fill="#f00" transform="rotate(-76 534.8 486.8)"/>
<rect x="1211.9" y="456.9" width="7.0" height="7.6" fill="#fff" transform="rotate(84 1215.4 460.7)"/>
<rect x="676.2" y="448.7" width="7.0" height="7.6" fill="#f00" transform="rotate(-86 679.7 452.5)"/>
<rect x="1649.5" y="642.4" width="7.0" height="7.6" fill="#f00" transform="rotate(-88 1653.0 646.2)"/>
<rect x="1408.7" y="490.0" width="7.0" height="7.6" fill="#fff" transform="rotate(86 1412.2 493.8)"/>
<rect x="789.1" y="487.3" width="7.0" height="7.6" fill="#fff" transform="rotate(82 792.6 491.1)"/>
<rect x="240.7" y="152.6" width="7.0" height="7.6" fill="#fff" transform="rotate(-84 244.2 156.4)"/>
<rect x="1301.4" y="473.1" width="7.0" height="7.6" fill="#fff" transform="rotate(-87 1304.9 476.9)"/>
<rect x="1320.2" y="435.8" width="7.0" height="7.6" fill="#fff" transform="rotate(83 1323.7 439.6)"/>
<rect x="1223.6" y="413.2" width="7.0" height="7.6" fill="#f00" transform="rotate(87 1227.1 417.0)"/>
<rect x="192.7" y="147.8" width="7.0" height="7.6" fill="#fff" transform="rotate(-85 196.2 151.6)"/>
<rect x="882.9" y="493.3" width="7.0" height="7.6" fill="#f00" transform="rotate(83 886.4 497.1)"/>
<rect x="505.0" y="476.1" width="7.0" height="7.6" fill="#f00" transform="rotate(85 508.5 479.9)"/>
<rect x="1239.1" y="512.6" width="7.0" height="7.6" fill="#fff" transform="rotate(88 1242.6 516.4)"/>
<rect x="999.2" y="433.9" width="7.0" height="7.6" fill="#fff" transform="rotate(86 1002.7 437.7)"/>
<rect x="1159.0" y="432.9" width="7.0" height="7.6" fill="#fff" transform="rotate(-87 1162.5 436.7)"/>
<rect x="1805.1" y="463.7" width="7.0" height="7.6" fill="#f00" transform="rotate(2 1808.6 467.5)"/>
<rect x="1558.1" y="351.7" width="7.0" height="7.6" fill="#f00" transform="rotate(88 1561.6 355.5)"/>
<rect x="977.3" y="515.5" width="7.0" height="7.6" fill="#f00" transform="rotate(87 980.8 519.3)"/>
<rect x="1510.7" y="421.0" width="7.0" height="7.6" fill="#f00" transform="rotate(85 1514.2 424.8)"/>
<rect x="302.2" y="428.9" width="7.0" height="7.6" fill="#f00" transform="rotate(85 305.7 432.7)"/>
<rect x="902.9" y="411.0" width="7.0" height="7.6" fill="#fff" transform="rotate(-85 906.4 414.8)"/>
<rect x="1374.7" y="425.2" width="7.0" height="7.6" fill="#f00" transform="rotate(-88 1378.2 429.0)"/>
<rect x="678.4" y="417.4" width="7.0" height="7.6" fill="#f00" transform="rotate(76 681.9 421.2)"/>
<rect x="928.7" y="437.5" width="7.0" height="7.6" fill="#fff" transform="rotate(86 932.2 441.3)"/>
<rect x="598.4" y="514.4" width="7.0" height="7.6" fill="#fff" transform="rotate(85 601.9 518.2)"/>
<rect x="211.6" y="169.5" width="7.0" height="7.6" fill="#fff" transform="rotate(84 215.1 173.3)"/>
<rect x="1572.2" y="451.3" width="7.0" height="7.6" fill="#f00" transform="rotate(86 1575.7 455.1)"/>
<rect x="1418.2" y="489.9" width="7.0" height="7.6" fill="#fff" transform="rotate(88 1421.7 493.7)"/>
<rect x="950.2" y="449.0" width="7.0" height="7.6" fill="#fff" transform="rotate(83 953.7 452.8)"/>
<rect x="1655.9" y="685.8" width="7.0" height="7.6" fill="#f00" transform="rotate(-87 1659.4 689.6)"/>
<rect x="1537.5" y="432.5" width="7.0" height="7.6" fill="#f00" transform="rotate(86 1541.0 436.3)"/>
<rect x="1041.6" y="514.2" width="7.0" height="7.6" fill="#fff" transform="rotate(-83 1045.1 518.0)"/>
<rect x="548.3" y="482.7" width="7.0" height="7.6" fill="#fff" transform="rotate(83 551.8 486.5)"/>
<rect x="1039.4" y="505.2" width="7.0" height="7.6" fill="#fff" transform="rotate(82 1042.9 509.0)"/>
<rect x="1485.2" y="368.4" width="7.0" height="7.6" fill="#f00" transform="rotate(-87 1488.7 372.2)"/>
<rect x="864.6" y="428.3" width="7.0" height="7.6" fill="#fff" transform="rotate(-86 868.1 432.1)"/>
<rect x="939.9" y="454.3" width="7.0" height="7.6" fill="#f00" transform="rotate(87 943.4 458.1)"/>
<rect x="507.2" y="469.3" width="7.0" height="7.6" fill="#f00" transform="rotate(-81 510.7 473.1)"/>
<rect x="205.3" y="173.6" width="7.0" height="7.6" fill="#f00" transform="rotate(86 208.8 177.4)"/>
<rect x="1654.3" y="703.2" width="7.0" height="7.6" fill="#f00" transform="rotate(88 1657.8 707.0)"/>
<rect x="1624.4" y="592.6" width="7.0" height="7.6" fill="#f00" transform="rotate(55 1627.9 596.4)"/>
<rect x="1028.9" y="524.7" width="7.0" height="7.6" fill="#f00" transform="rotate(-85 1032.4 528.5)"/>
<rect x="615.5" y="443.7" width="7.0" height="7.6" fill="#f00" transform="rotate(-86 619.0 447.5)"/>
<rect x="1372.6" y="474.6" width="7.0" height="7.6" fill="#fff" transform="rotate(-88 1376.1 478.4)"/>
<rect x="213.4" y="179.9" width="7.0" height="7.6" fill="#f00" transform="rotate(-83 216.9 183.7)"/>
<rect x="846.2" y="506.0" width="7.0" height="7.6" fill="#fff" transform="rotate(87 849.7 509.8)"/>
<rect x="611.7" y="493.1" width="7.0" height="7.6" fill="#f00" transform="rotate(-86 615.2 496.9)"/>
<rect x="1265.7" y="455.0" width="7.0" height="7.6" fill="#f00" transform="rotate(-85 1269.2 458.8)"/>
<rect x="1433.2" y="430.2" width="7.0" height="7.6" fill="#fff" transform="rotate(-88 1436.7 434.0)"/>
<rect x="1356.9" y="476.6" width="7.0" height="7.6" fill="#fff" transform="rotate(85 1360.4 480.4)"/>
<rect x="851.6" y="424.2" width="7.0" height="7.6" fill="#fff" transform="rotate(-86 855.1 428.0)"/>
<rect x="1540.7" y="382.0" width="7.0" height="7.6" fill="#fff" transform="rotate(-88 1544.2 385.8)"/>
<rect x="1033.2" y="475.4" width="7.0" height="7.6" fill="#fff" transform="rotate(-85 1036.7 479.2)"/>
<rect x="1451.8" y="467.3" width="7.0" height="7.6" fill="#f00" transform="rotate(86 1455.3 471.1)"/>
<rect x="718.6" y="518.8" width="7.0" height="7.6" fill="#f00" transform="rotate(87 722.1 522.6)"/>
<rect x="1507.7" y="388.1" width="7.0" height="7.6" fill="#f00" transform="rotate(85 1511.2 391.9)"/>
<rect x="264.7" y="178.4" width="7.0" height="7.6" fill="#f00" transform="rotate(90 268.2 182.2)"/>
<rect x="294.9" y="445.3" width="7.0" height="7.6" fill="#fff" transform="rotate(-85 298.4 449.1)"/>
<rect x="191.3" y="164.2" width="7.0" height="7.6" fill="#f00" transform="rotate(-83 194.8 168.0)"/>
<rect x="490.9" y="454.0" width="7.0" height="7.6" fill="#f00" transform="rotate(86 494.4 457.8)"/>
<rect x="954.3" y="481.8" width="7.0" height="7.6" fill="#fff" transform="rotate(83 957.8 485.6)"/>
<rect x="1398.5" y="450.0" width="7.0" height="7.6" fill="#fff" transform="rotate(-84 1402.0 453.8)"/>
<rect x="1496.6" y="355.8" width="7.0" height="7.6" fill="#fff" transform="rotate(-85 1500.1 359.6)"/>
<rect x="1308.1" y="446.9" width="7.0" height="7.6" fill="#f00" transform="rotate(86 1311.6 450.7)"/>
<rect x="1302.4" y="456.6" width="7.0" height="7.6" fill="#fff" transform="rotate(-87 1305.9 460.4)"/>
<rect x="314.7" y="457.1" width="7.0" height="7.6" fill="#f00" transform="rotate(-85 318.2 460.9)"/>
<rect x="1420.3" y="539.3" width="7.0" height="7.6" fill="#f00" transform="rotate(88 1423.8 543.1)"/>
<rect x="662.1" y="481.4" width="7.0" height="7.6" fill="#f00" transform="rotate(-82 665.6 485.2)"/>
<rect x="1291.9" y="446.7" width="7.0" height="7.6" fill="#fff" transform="rotate(-63 1295.4 450.5)"/>
<rect x="1430.2" y="529.2" width="7.0" height="7.6" fill="#fff" transform="rotate(-88 1433.7 533.0)"/>
<rect x="671.7" y="493.0" width="7.0" height="7.6" fill="#f00" transform="rotate(84 675.2 496.8)"/>
<rect x="1617.6" y="578.8" width="7.0" height="7.6" fill="#f00" transform="rotate(115 1621.1 582.6)"/>
<rect x="1653.1" y="670.2" width="7.0" height="7.6" fill="#fff" transform="rotate(88 1656.6 674.0)"/>
<rect x="273.6" y="243.1" width="7.0" height="7.6" fill="#f00" transform="rotate(88 277.1 246.9)"/>
<rect x="1087.8" y="484.3" width="7.0" height="7.6" fill="#fff" transform="rotate(-86 1091.3 488.1)"/>
<rect x="1183.3" y="422.2" width="7.0" height="7.6" fill="#fff" transform="rotate(-88 1186.8 426.0)"/>
<rect x="514.7" y="459.3" width="7.0" height="7.6" fill="#fff" transform="rotate(81 518.2 463.1)"/>
<rect x="1386.6" y="414.9" width="7.0" height="7.6" fill="#fff" transform="rotate(-88 1390.1 418.7)"/>
<rect x="1407.6" y="473.6" width="7.0" height="7.6" fill="#fff" transform="rotate(86 1411.1 477.4)"/>
<rect x="670.1" y="476.6" width="7.0" height="7.6" fill="#fff" transform="rotate(84 673.6 480.4)"/>
<rect x="154.8" y="557.7" width="7.0" height="7.6" fill="#f00" transform="rotate(-83 158.3 561.5)"/>
<rect x="1111.2" y="497.2" width="7.0" height="7.6" fill="#f00" transform="rotate(-88 1114.7 501.0)"/>
<rect x="400.8" y="502.2" width="7.0" height="7.6" fill="#f00" transform="rotate(-86 404.3 506.0)"/>
<rect x="959.7" y="449.4" width="7.0" height="7.6" fill="#fff" transform="rotate(-84 963.2 453.2)"/>
<rect x="310.7" y="393.5" width="7.0" height="7.6" fill="#f00" transform="rotate(87 314.2 397.3)"/>
<rect x="1414.0" y="394.5" width="7.0" height="7.6" fill="#f00" transform="rotate(-87 1417.5 398.3)"/>
<rect x="1313.5" y="450.8" width="7.0" height="7.6" fill="#fff" transform="rotate(-87 1317.0 454.6)"/>
<rect x="890.2" y="405.8" width="7.0" height="7.6" fill="#f00" transform="rotate(86 893.7 409.6)"/>
<rect x="1007.1" y="483.7" width="7.0" height="7.6" fill="#f00" transform="rotate(-87 1010.6 487.5)"/>
<rect x="405.0" y="436.3" width="7.0" height="7.6" fill="#fff" transform="rotate(-86 408.5 440.1)"/>
<rect x="1153.4" y="474.5" width="7.0" height="7.6" fill="#f00" transform="rotate(85 1156.9 478.3)"/>
<rect x="1432.7" y="446.7" width="7.0" height="7.6" fill="#fff" transform="rotate(-88 1436.2 450.5)"/>
<rect x="1241.0" y="505.5" width="7.0" height="7.6" fill="#fff" transform="rotate(-86 1244.5 509.3)"/>
<rect x="1035.0" y="472.5" width="7.0" height="7.6" fill="#fff" transform="rotate(82 1038.5 476.3)"/>
<rect x="526.5" y="428.8" width="7.0" height="7.6" fill="#fff" transform="rotate(87 530.0 432.6)"/>
<rect x="1518.6" y="416.8" width="7.0" height="7.6" fill="#fff" transform="rotate(-84 1522.1 420.6)"/>
<rect x="1557.6" y="335.3" width="7.0" height="7.6" fill="#fff" transform="rotate(88 1561.1 339.1)"/>
<rect x="858.9" y="510.6" width="7.0" height="7.6" fill="#fff" transform="rotate(-86 862.4 514.4)"/>
<rect x="1686.5" y="677.1" width="7.0" height="7.6" fill="#f00" transform="rotate(85 1690.0 680.9)"/>
<rect x="843.7" y="456.6" width="7.0" height="7.6" fill="#fff" transform="rotate(87 847.2 460.4)"/>
<rect x="1366.4" y="421.7" width="7.0" height="7.6" fill="#f00" transform="rotate(85 1369.9 425.5)"/>
<rect x="1509.2" y="404.6" width="7.0" height="7.6" fill="#f00" transform="rotate(85 1512.7 408.4)"/>
<rect x="1113.4" y="414.7" width="7.0" height="7.6" fill="#f00" transform="rotate(-88 1116.9 418.5)"/>
<rect x="448.9" y="492.4" width="7.0" height="7.6" fill="#fff" transform="rotate(-86 452.4 496.2)"/>
<rect x="1263.0" y="465.3" width="7.0" height="7.6" fill="#f00" transform="rotate(63 1266.5 469.1)"/>
<rect x="177.7" y="312.0" width="7.0" height="7.6" fill="#f00" transform="rotate(-87 181.2 315.8)"/>
<rect x="1283.5" y="435.6" width="7.0" height="7.6" fill="#f00" transform="rotate(82 1287.0 439.4)"/>
<rect x="1219.6" y="427.1" width="7.0" height="7.6" fill="#fff" transform="rotate(-86 1223.1 430.9)"/>
<rect x="1277.1" y="447.8" width="7.0" height="7.6" fill="#fff" transform="rotate(-83 1280.6 451.6)"/>
<rect x="1738.6" y="491.8" width="7.0" height="7.6" fill="#f00" transform="rotate(-76 1742.1 495.6)"/>
<rect x="313.7" y="442.9" width="7.0" height="7.6" fill="#f00" transform="rotate(87 317.2 446.7)"/>
<rect x="1376.7" y="375.7" width="7.0" height="7.6" fill="#f00" transform="rotate(-88 1380.2 379.5)"/>
<rect x="1755.9" y="465.3" width="7.0" height="7.6" fill="#f00" transform="rotate(-14 1759.4 469.1)"/>
<rect x="1411.8" y="443.9" width="7.0" height="7.6" fill="#fff" transform="rotate(-87 1415.3 447.7)"/>
<rect x="1529.6" y="402.8" width="7.0" height="7.6" fill="#f00" transform="rotate(-85 1533.1 406.6)"/>
<rect x="458.7" y="473.1" width="7.0" height="7.6" fill="#fff" transform="rotate(-86 462.2 476.9)"/>
<rect x="898.4" y="460.3" width="7.0" height="7.6" fill="#fff" transform="rotate(-85 901.9 464.1)"/>
<rect x="1640.1" y="659.8" width="7.0" height="7.6" fill="#fff" transform="rotate(-87 1643.6 663.6)"/>
<rect x="500.7" y="426.8" width="7.0" height="7.6" fill="#fff" transform="rotate(85 504.2 430.6)"/>
<rect x="358.7" y="435.5" width="7.0" height="7.6" fill="#fff" transform="rotate(-85 362.2 439.3)"/>
<rect x="1547.1" y="384.7" width="7.0" height="7.6" fill="#fff" transform="rotate(87 1550.6 388.5)"/>
<rect x="247.5" y="180.5" width="7.0" height="7.6" fill="#f00" transform="rotate(-86 251.0 184.3)"/>
<rect x="896.9" y="476.7" width="7.0" height="7.6" fill="#fff" transform="rotate(-85 900.4 480.5)"/>
<rect x="1021.4" y="457.0" width="7.0" height="7.6" fill="#fff" transform="rotate(-86 1024.9 460.8)"/>
<rect x="1005.3" y="516.2" width="7.0" height="7.6" fill="#fff" transform="rotate(86 1008.8 520.0)"/>
<rect x="1542.3" y="332.5" width="7.0" height="7.6" fill="#fff" transform="rotate(-88 1545.8 336.3)"/>
<rect x="1565.6" y="425.9" width="7.0" height="7.6" fill="#fff" transform="rotate(-85 1569.1 429.7)"/>
<rect x="817.1" y="492.4" width="7.0" height="7.6" fill="#fff" transform="rotate(-84 820.6 496.2)"/>
<rect x="1275.2" y="459.9" width="7.0" height="7.6" fill="#fff" transform="rotate(84 1278.7 463.7)"/>
<rect x="682.2" y="433.4" width="7.0" height="7.6" fill="#f00" transform="rotate(76 685.7 437.2)"/>
<rect x="764.1" y="494.0" width="7.0" height="7.6" fill="#f00" transform="rotate(84 767.6 497.8)"/>
<rect x="262.6" y="188.7" width="7.0" height="7.6" fill="#fff" transform="rotate(-87 266.1 192.5)"/>
<rect x="1225.4" y="446.2" width="7.0" height="7.6" fill="#f00" transform="rotate(87 1228.9 450.0)"/>
<rect x="1228.8" y="456.0" width="7.0" height="7.6" fill="#f00" transform="rotate(-85 1232.3 459.8)"/>
<rect x="932.1" y="486.8" width="7.0" height="7.6" fill="#fff" transform="rotate(86 935.6 490.6)"/>
<rect x="1390.6" y="385.7" width="7.0" height="7.6" fill="#f00" transform="rotate(87 1394.1 389.5)"/>
<rect x="1231.8" y="423.1" width="7.0" height="7.6" fill="#f00" transform="rotate(-85 1235.3 426.9)"/>
<rect x="1634.8" y="630.2" width="7.0" height="7.6" fill="#f00" transform="rotate(86 1638.3 634.0)"/>
<rect x="873.7" y="493.7" width="7.0" height="7.6" fill="#fff" transform="rotate(-84 877.2 497.5)"/>
<rect x="1587.5" y="408.9" width="7.0" height="7.6" fill="#f00" transform="rotate(-87 1591.0 412.7)"/>
<rect x="1149.0" y="425.2" width="7.0" height="7.6" fill="#f00" transform="rotate(85 1152.5 429.0)"/>
<rect x="352.5" y="501.2" width="7.0" height="7.6" fill="#fff" transform="rotate(-85 356.0 505.0)"/>
<rect x="1645.4" y="666.6" width="7.0" height="7.6" fill="#f00" transform="rotate(88 1648.9 670.4)"/>
<rect x="260.7" y="175.0" width="7.0" height="7.6" fill="#f00" transform="rotate(83 264.2 178.8)"/>
<rect x="1602.5" y="358.5" width="7.0" height="7.6" fill="#f00" transform="rotate(88 1606.0 362.3)"/>
<rect x="607.4" y="491.3" width="7.0" height="7.6" fill="#fff" transform="rotate(80 610.9 495.1)"/>
<rect x="529.3" y="478.2" width="7.0" height="7.6" fill="#f00" transform="rotate(87 532.8 482.0)"/>
<rect x="1486.1" y="353.6" width="7.0" height="7.6" fill="#fff" transform="rotate(87 1489.6 357.4)"/>
<rect x="1648.3" y="675.3" width="7.0" height="7.6" fill="#f00" transform="rotate(-88 1651.8 679.1)"/>
<rect x="1422.6" y="458.5" width="7.0" height="7.6" fill="#fff" transform="rotate(-88 1426.1 462.3)"/>
<rect x="1217.4" y="460.0" width="7.0" height="7.6" fill="#fff" transform="rotate(-86 1220.9 463.8)"/>
<rect x="233.1" y="149.5" width="7.0" height="7.6" fill="#f00" transform="rotate(-84 236.6 153.3)"/>
<rect x="523.3" y="437.5" width="7.0" height="7.6" fill="#f00" transform="rotate(-83 526.8 441.3)"/>
<rect x="1141.3" y="470.9" width="7.0" height="7.6" fill="#f00" transform="rotate(87 1144.8 474.7)"/>
<rect x="318.9" y="407.7" width="7.0" height="7.6" fill="#fff" transform="rotate(-85 322.4 411.5)"/>
<rect x="1171.1" y="416.8" width="7.0" height="7.6" fill="#f00" transform="rotate(-86 1174.6 420.6)"/>
<rect x="1384.4" y="451.6" width="7.0" height="7.6" fill="#fff" transform="rotate(85 1387.9 455.4)"/>
<rect x="924.4" y="492.4" width="7.0" height="7.6" fill="#f00" transform="rotate(-86 927.9 496.2)"/>
<rect x="1239.8" y="522.0" width="7.0" height="7.6" fill="#fff" transform="rotate(-86 1243.3 525.8)"/>
<rect x="1515.2" y="449.7" width="7.0" height="7.6" fill="#f00" transform="rotate(-84 1518.7 453.5)"/>
<rect x="553.7" y="508.6" width="7.0" height="7.6" fill="#f00" transform="rotate(-85 557.2 512.4)"/>
<rect x="906.5" y="468.6" width="7.0" height="7.6" fill="#f00" transform="rotate(87 910.0 472.4)"/>
<rect x="694.3" y="466.8" width="7.0" height="7.6" fill="#fff" transform="rotate(85 697.8 470.6)"/>
<rect x="887.4" y="452.1" width="7.0" height="7.6" fill="#f00" transform="rotate(-87 890.9 455.9)"/>
<rect x="1375.3" y="408.7" width="7.0" height="7.6" fill="#f00" transform="rotate(-88 1378.8 412.5)"/>
<rect x="1427.3" y="463.4" width="7.0" height="7.6" fill="#fff" transform="rotate(88 1430.8 467.2)"/>
<rect x="904.8" y="435.6" width="7.0" height="7.6" fill="#f00" transform="rotate(87 908.3 439.4)"/>
<rect x="1429.5" y="512.8" width="7.0" height="7.6" fill="#fff" transform="rotate(88 1433.0 516.6)"/>
<rect x="1421.7" y="491.5" width="7.0" height="7.6" fill="#fff" transform="rotate(-88 1425.2 495.3)"/>
<rect x="913.4" y="454.8" width="7.0" height="7.6" fill="#fff" transform="rotate(-84 916.9 458.6)"/>
<rect x="454.1" y="441.8" width="7.0" height="7.6" fill="#fff" transform="rotate(82 457.6 445.6)"/>
<rect x="1497.3" y="363.7" width="7.0" height="7.6" fill="#fff" transform="rotate(88 1500.8 367.5)"/>
<rect x="1037.2" y="488.9" width="7.0" height="7.6" fill="#fff" transform="rotate(82 1040.7 492.7)"/>
<rect x="1478.8" y="483.7" width="7.0" height="7.6" fill="#fff" transform="rotate(-87 1482.3 487.5)"/>
<rect x="1421.2" y="508.0" width="7.0" height="7.6" fill="#fff" transform="rotate(-88 1424.7 511.8)"/>
<rect x="1460.4" y="435.2" width="7.0" height="7.6" fill="#fff" transform="rotate(84 1463.9 439.0)"/>
<rect x="1025.2" y="501.6" width="7.0" height="7.6" fill="#f00" transform="rotate(88 1028.7 505.4)"/>
<rect x="1463.8" y="468.0" width="7.0" height="7.6" fill="#f00" transform="rotate(84 1467.3 471.8)"/>
<rect x="1497.8" y="380.2" width="7.0" height="7.6" fill="#f00" transform="rotate(88 1501.3 384.0)"/>
<rect x="903.9" y="419.2" width="7.0" height="7.6" fill="#fff" transform="rotate(87 907.4 423.0)"/>
<rect x="194.0" y="133.1" width="7.0" height="7.6" fill="#f00" transform="rotate(83 197.5 136.9)"/>
<rect x="1346.0" y="468.3" width="7.0" height="7.6" fill="#fff" transform="rotate(78 1349.5 472.1)"/>
<rect x="275.4" y="292.6" width="7.0" height="7.6" fill="#f00" transform="rotate(88 278.9 296.4)"/>
<rect x="705.0" y="462.1" width="7.0" height="7.6" fill="#fff" transform="rotate(86 708.5 465.9)"/>
<rect x="786.8" y="471.0" width="7.0" height="7.6" fill="#fff" transform="rotate(82 790.3 474.8)"/>
<rect x="1167.0" y="462.8" width="7.0" height="7.6" fill="#f00" transform="rotate(87 1170.5 466.6)"/>
<rect x="1180.8" y="488.1" width="7.0" height="7.6" fill="#fff" transform="rotate(-88 1184.3 491.9)"/>
<rect x="1470.2" y="457.3" width="7.0" height="7.6" fill="#fff" transform="rotate(-81 1473.7 461.1)"/>
<rect x="845.4" y="489.5" width="7.0" height="7.6" fill="#f00" transform="rotate(87 848.9 493.3)"/>
<rect x="1204.2" y="505.6" width="7.0" height="7.6" fill="#fff" transform="rotate(-85 1207.7 509.4)"/>
<rect x="877.1" y="460.9" width="7.0" height="7.6" fill="#f00" transform="rotate(-84 880.6 464.7)"/>
<rect x="1661.1" y="674.2" width="7.0" height="7.6" fill="#f00" transform="rotate(87 1664.6 678.0)"/>
<rect x="1406.6" y="457.1" width="7.0" height="7.6" fill="#f00" transform="rotate(86 1410.1 460.9)"/>
<rect x="1561.0" y="434.2" width="7.0" height="7.6" fill="#f00" transform="rotate(88 1564.5 438.0)"/>
<rect x="847.3" y="490.1" width="7.0" height="7.6" fill="#fff" transform="rotate(-86 850.8 493.9)"/>
<rect x="978.1" y="532.0" width="7.0" height="7.6" fill="#fff" transform="rotate(87 981.6 535.8)"/>
<rect x="1644.2" y="633.6" width="7.0" height="7.6" fill="#fff" transform="rotate(88 1647.7 637.4)"/>
<rect x="1612.7" y="487.0" width="7.0" height="7.6" fill="#f00" transform="rotate(58 1616.2 490.8)"/>
<rect x="1189.0" y="479.0" width="7.0" height="7.6" fill="#fff" transform="rotate(88 1192.5 482.8)"/>
<rect x="1388.5" y="365.4" width="7.0" height="7.6" fill="#f00" transform="rotate(-88 1392.0 369.2)"/>
<rect x="1083.1" y="447.7" width="7.0" height="7.6" fill="#fff" transform="rotate(84 1086.6 451.5)"/>
<rect x="1024.6" y="485.1" width="7.0" height="7.6" fill="#f00" transform="rotate(88 1028.1 488.9)"/>
<rect x="222.8" y="182.9" width="7.0" height="7.6" fill="#f00" transform="rotate(-85 226.3 186.7)"/>
<rect x="784.8" y="466.2" width="7.0" height="7.6" fill="#f00" transform="rotate(-84 788.3 470.0)"/>
<rect x="1318.2" y="419.4" width="7.0" height="7.6" fill="#fff" transform="rotate(83 1321.7 423.2)"/>
<rect x="354.1" y="484.8" width="7.0" height="7.6" fill="#fff" transform="rotate(-85 357.6 488.6)"/>
<rect x="841.9" y="423.6" width="7.0" height="7.6" fill="#fff" transform="rotate(87 845.4 427.4)"/>
<rect x="1063.2" y="488.8" width="7.0" height="7.6" fill="#fff" transform="rotate(85 1066.7 492.6)"/>
<rect x="1603.2" y="375.0" width="7.0" height="7.6" fill="#f00" transform="rotate(88 1606.7 378.8)"/>
<rect x="1567.2" y="409.5" width="7.0" height="7.6" fill="#fff" transform="rotate(-85 1570.7 413.3)"/>
<rect x="1010.9" y="456.7" width="7.0" height="7.6" fill="#f00" transform="rotate(87 1014.4 460.5)"/>
<rect x="1134.3" y="499.9" width="7.0" height="7.6" fill="#fff" transform="rotate(-87 1137.8 503.7)"/>
<rect x="1222.7" y="396.8" width="7.0" height="7.6" fill="#fff" transform="rotate(87 1226.2 400.6)"/>
<rect x="726.4" y="466.9" width="7.0" height="7.6" fill="#fff" transform="rotate(-85 729.9 470.7)"/>
<rect x="714.0" y="451.8" width="7.0" height="7.6" fill="#fff" transform="rotate(-87 717.5 455.6)"/>
<rect x="179.5" y="279.0" width="7.0" height="7.6" fill="#f00" transform="rotate(-87 183.0 282.8)"/>
<rect x="1647.2" y="708.3" width="7.0" height="7.6" fill="#fff" transform="rotate(-88 1650.7 712.1)"/>
<rect x="1128.2" y="391.3" width="7.0" height="7.6" fill="#fff" transform="rotate(87 1131.7 395.1)"/>
<rect x="1644.8" y="650.1" width="7.0" height="7.6" fill="#f00" transform="rotate(88 1648.3 653.9)"/>
<rect x="1479.7" y="467.3" width="7.0" height="7.6" fill="#fff" transform="rotate(-87 1483.2 471.1)"/>
<rect x="219.2" y="164.8" width="7.0" height="7.6" fill="#f00" transform="rotate(83 222.7 168.6)"/>
<rect x="381.7" y="466.0" width="7.0" height="7.6" fill="#fff" transform="rotate(69 385.2 469.8)"/>
<rect x="544.9" y="475.9" width="7.0" height="7.6" fill="#f00" transform="rotate(-85 548.4 479.7)"/>
<rect x="944.5" y="523.7" width="7.0" height="7.6" fill="#fff" transform="rotate(-87 948.0 527.5)"/>
<rect x="227.1" y="166.1" width="7.0" height="7.6" fill="#fff" transform="rotate(86 230.6 169.9)"/>
<rect x="1174.0" y="381.2" width="7.0" height="7.6" fill="#fff" transform="rotate(88 1177.5 385.0)"/>
<rect x="774.4" y="500.0" width="7.0" height="7.6" fill="#fff" transform="rotate(71 777.9 503.8)"/>
<rect x="202.9" y="140.7" width="7.0" height="7.6" fill="#fff" transform="rotate(86 206.4 144.5)"/>
<rect x="493.1" y="487.0" width="7.0" height="7.6" fill="#f00" transform="rotate(86 496.6 490.8)"/>
<rect x="1659.4" y="641.2" width="7.0" height="7.6" fill="#fff" transform="rotate(87 1662.9 645.0)"/>
<rect x="300.7" y="412.4" width="7.0" height="7.6" fill="#fff" transform="rotate(85 304.2 416.2)"/>
<rect x="550.2" y="499.1" width="7.0" height="7.6" fill="#f00" transform="rotate(83 553.7 502.9)"/>
<rect x="804.6" y="481.6" width="7.0" height="7.6" fill="#fff" transform="rotate(-83 808.1 485.4)"/>
<rect x="292.2" y="456.2" width="7.0" height="7.6" fill="#fff" transform="rotate(86 295.7 460.0)"/>
<rect x="1522.3" y="407.5" width="7.0" height="7.6" fill="#f00" transform="rotate(83 1525.8 411.3)"/>
<rect x="808.4" y="465.9" width="7.0" height="7.6" fill="#f00" transform="rotate(86 811.9 469.7)"/>
<rect x="1135.2" y="483.5" width="7.0" height="7.6" fill="#f00" transform="rotate(-87 1138.7 487.3)"/>
<rect x="274.8" y="276.1" width="7.0" height="7.6" fill="#f00" transform="rotate(88 278.3 279.9)"/>
<rect x="466.9" y="395.8" width="7.0" height="7.6" fill="#fff" transform="rotate(86 470.4 399.6)"/>
<rect x="1387.2" y="398.4" width="7.0" height="7.6" fill="#fff" transform="rotate(-88 1390.7 402.2)"/>
<rect x="1306.8" y="430.4" width="7.0" height="7.6" fill="#fff" transform="rotate(86 1310.3 434.2)"/>
<rect x="1528.0" y="419.2" width="7.0" height="7.6" fill="#fff" transform="rotate(-85 1531.5 423.0)"/>
<rect x="1564.0" y="442.3" width="7.0" height="7.6" fill="#fff" transform="rotate(-85 1567.5 446.1)"/>
<rect x="852.6" y="412.8" width="7.0" height="7.6" fill="#fff" transform="rotate(86 856.1 416.6)"/>
<rect x="578.6" y="466.3" width="7.0" height="7.6" fill="#fff" transform="rotate(-85 582.1 470.1)"/>
<rect x="893.4" y="455.2" width="7.0" height="7.6" fill="#fff" transform="rotate(86 896.9 459.0)"/>
<rect x="806.7" y="465.2" width="7.0" height="7.6" fill="#fff" transform="rotate(-83 810.2 469.0)"/>
<rect x="706.1" y="478.6" width="7.0" height="7.6" fill="#fff" transform="rotate(86 709.6 482.4)"/>
<rect x="1672.8" y="677.5" width="7.0" height="7.6" fill="#f00" transform="rotate(-82 1676.3 681.3)"/>
<rect x="244.2" y="159.9" width="7.0" height="7.6" fill="#fff" transform="rotate(84 247.7 163.7)"/>
<rect x="357.2" y="451.9" width="7.0" height="7.6" fill="#fff" transform="rotate(-85 360.7 455.7)"/>
<rect x="311.7" y="410.0" width="7.0" height="7.6" fill="#fff" transform="rotate(87 315.2 413.8)"/>
<rect x="528.4" y="461.8" width="7.0" height="7.6" fill="#f00" transform="rotate(87 531.9 465.6)"/>
<rect x="1453.4" y="474.8" width="7.0" height="7.6" fill="#f00" transform="rotate(-82 1456.9 478.6)"/>
<rect x="316.1" y="440.6" width="7.0" height="7.6" fill="#fff" transform="rotate(-85 319.6 444.4)"/>
<rect x="1731.5" y="524.0" width="7.0" height="7.6" fill="#f00" transform="rotate(-80 1735.0 527.8)"/>
<rect x="274.2" y="259.6" width="7.0" height="7.6" fill="#f00" transform="rotate(88 277.7 263.4)"/>
<rect x="668.5" y="460.2" width="7.0" height="7.6" fill="#fff" transform="rotate(84 672.0 464.0)"/>
<rect x="1488.0" y="386.6" width="7.0" height="7.6" fill="#f00" transform="rotate(87 1491.5 390.4)"/>
<rect x="1506.4" y="399.2" width="7.0" height="7.6" fill="#fff" transform="rotate(-85 1509.9 403.0)"/>
<rect x="1178.9" y="513.2" width="7.0" height="7.6" fill="#fff" transform="rotate(88 1182.4 517.0)"/>
<rect x="1641.9" y="626.8" width="7.0" height="7.6" fill="#fff" transform="rotate(-87 1645.4 630.6)"/>
<rect x="594.5" y="465.0" width="7.0" height="7.6" fill="#fff" transform="rotate(85 598.0 468.8)"/>
<rect x="1192.9" y="518.0" width="7.0" height="7.6" fill="#fff" transform="rotate(-86 1196.4 521.8)"/>
<rect x="1189.7" y="495.5" width="7.0" height="7.6" fill="#fff" transform="rotate(88 1193.2 499.3)"/>
<rect x="1653.7" y="686.7" width="7.0" height="7.6" fill="#fff" transform="rotate(88 1657.2 690.5)"/>
<rect x="325.0" y="462.6" width="7.0" height="7.6" fill="#fff" transform="rotate(86 328.5 466.4)"/>
<rect x="798.0" y="471.8" width="7.0" height="7.6" fill="#f00" transform="rotate(86 801.5 475.6)"/>
<rect x="699.3" y="470.5" width="7.0" height="7.6" fill="#f00" transform="rotate(-76 702.8 474.3)"/>
<rect x="1051.4" y="490.3" width="7.0" height="7.6" fill="#fff" transform="rotate(78 1054.9 494.1)"/>
<rect x="1030.3" y="508.3" width="7.0" height="7.6" fill="#fff" transform="rotate(-85 1033.8 512.1)"/>
<rect x="489.8" y="437.6" width="7.0" height="7.6" fill="#fff" transform="rotate(86 493.3 441.4)"/>
<rect x="1136.0" y="467.0" width="7.0" height="7.6" fill="#fff" transform="rotate(-87 1139.5 470.8)"/>
<rect x="1132.8" y="490.2" width="7.0" height="7.6" fill="#fff" transform="rotate(87 1136.3 494.0)"/>
<rect x="1547.9" y="401.2" width="7.0" height="7.6" fill="#fff" transform="rotate(87 1551.4 405.0)"/>
<rect x="1197.4" y="460.0" width="7.0" height="7.6" fill="#fff" transform="rotate(84 1200.9 463.8)"/>
<rect x="1712.8" y="654.4" width="7.0" height="7.6" fill="#f00" transform="rotate(-81 1716.3 658.2)"/>
<rect x="1011.9" y="473.2" width="7.0" height="7.6" fill="#f00" transform="rotate(87 1015.4 477.0)"/>
<rect x="708.3" y="511.5" width="7.0" height="7.6" fill="#fff" transform="rotate(86 711.8 515.3)"/>
<rect x="1213.6" y="473.3" width="7.0" height="7.6" fill="#f00" transform="rotate(84 1217.1 477.1)"/>
<rect x="1489.0" y="403.0" width="7.0" height="7.6" fill="#f00" transform="rotate(87 1492.5 406.8)"/>
<rect x="1140.3" y="454.4" width="7.0" height="7.6" fill="#fff" transform="rotate(87 1143.8 458.2)"/>
<rect x="327.4" y="495.5" width="7.0" height="7.6" fill="#fff" transform="rotate(86 330.9 499.3)"/>
<rect x="985.5" y="434.8" width="7.0" height="7.6" fill="#fff" transform="rotate(-87 989.0 438.6)"/>
<rect x="239.0" y="169.1" width="7.0" height="7.6" fill="#f00" transform="rotate(-84 242.5 172.9)"/>
<rect x="174.3" y="377.9" width="7.0" height="7.6" fill="#f00" transform="rotate(-86 177.8 381.7)"/>
<rect x="1557.0" y="318.8" width="7.0" height="7.6" fill="#fff" transform="rotate(88 1560.5 322.6)"/>
<rect x="277.4" y="308.9" width="7.0" height="7.6" fill="#f00" transform="rotate(74 280.9 312.7)"/>
<rect x="1544.8" y="335.3" width="7.0" height="7.6" fill="#f00" transform="rotate(87 1548.3 339.1)"/>
<rect x="1708.8" y="687.2" width="7.0" height="7.6" fill="#f00" transform="rotate(-83 1712.3 691.0)"/>
<rect x="225.9" y="150.0" width="7.0" height="7.6" fill="#f00" transform="rotate(-85 229.4 153.8)"/>
</g>
<polyline filter="url(#cl)" stroke="#0000ff" stroke-width="10.5" stroke-linecap="butt" points="144.6,593.0 152.5,538.0 158.0,481.0 160.5,456.0 164.0,450.0 166.0,430.0 171.7,380.0 175.0,345.0 178.6,307.0 185.0,267.6 193.5,260.6 199.0,265.0 207.5,226.0 213.7,276.0 218.8,234.4 223.0,276.0 231.5,240.0 238.0,290.0 251.0,247.0 255.4,328.0 262.4,302.0 266.7,357.7 268.6,392.0 272.0,424.0 276.6,456.0 281.4,488.0 284.0,532.0 286.0,570.0 288.5,601.0 295.0,550.0 299.8,628.4 307.8,556.4 312.0,580.0 316.7,556.4 324.7,635.4 329.0,593.0 335.5,675.3 342.0,579.0 347.7,657.7 355.6,569.0 362.0,583.0 368.4,561.0 379.5,638.6 386.6,579.3 390.7,661.0 397.0,612.0 401.9,550.0 405.0,564.0 411.4,519.4 416.0,518.0 422.6,576.8 425.8,527.7 433.7,638.6 441.7,537.0 446.5,606.7 453.8,553.0 459.0,596.0 464.0,483.0 467.5,583.0 473.6,470.3 480.6,657.7 487.0,569.0 492.0,664.0 497.5,610.6 502.0,625.0 507.0,578.7 512.8,621.4 518.8,528.3 524.6,551.0 531.0,548.4 537.3,683.2 541.0,620.0 545.0,678.0 548.5,675.0 553.5,621.5 559.0,615.0 564.0,611.8 570.3,623.0 575.0,585.0 584.6,586.3 589.4,615.0 592.6,666.0 599.0,656.5 605.3,599.0 610.0,650.0 616.5,581.5 622.9,611.8 626.7,548.0 632.4,573.6 638.2,548.7 643.6,623.0 651.0,564.0 656.4,651.7 662.7,573.6 667.5,631.0 675.5,564.0 680.3,583.0 686.6,540.0 691.4,634.0 697.8,559.0 703.2,672.4 708.3,589.5 713.7,654.9 720.0,624.6 724.9,642.0 731.9,575.0 737.6,605.5 743.4,583.0 748.8,640.5 754.2,597.5 760.0,669.2 768.0,654.9 774.3,667.6 780.7,580.0 786.0,585.0 791.8,564.0 796.6,615.0 803.0,560.8 807.8,654.9 814.0,608.6 818.0,643.7 821.0,634.0 825.0,658.0 830.0,611.8 836.0,602.3 840.7,522.6 844.9,597.5 850.3,530.5 854.4,624.6 860.8,597.5 866.2,645.3 872.6,575.2 877.4,645.3 885.3,567.2 889.5,602.3 895.9,495.5 901.3,583.1 906.1,530.5 910.9,646.9 915.6,607.0 922.0,666.0 928.4,576.8 933.2,653.3 939.5,576.8 944.3,592.7 950.7,555.1 955.5,589.5 960.3,583.1 966.6,651.7 973.0,597.5 978.4,667.6 984.2,591.1 989.0,634.1 993.7,615.0 998.5,629.4 1008.7,565.6 1014.5,621.4 1020.2,583.1 1024.0,674.0 1030.4,583.1 1035.2,654.9 1039.3,554.5 1044.7,640.5 1050.2,564.7 1057.5,595.9 1063.9,527.4 1070.2,595.9 1075.0,543.3 1078.2,616.6 1083.9,562.4 1090.3,637.3 1095.7,586.3 1102.1,602.3 1108.7,519.5 1114.3,594.3 1118.5,532.0 1123.2,597.9 1130.3,574.7 1137.4,651.3 1142.8,603.2 1149.2,642.4 1153.4,548.0 1163.4,507.0 1169.5,569.4 1174.1,539.1 1180.2,569.4 1185.5,633.5 1192.6,651.3 1196.2,603.2 1203.3,637.1 1206.9,585.4 1212.2,594.3 1216.5,506.0 1222.9,569.4 1226.5,519.5 1231.1,633.5 1237.2,567.6 1242.5,597.9 1247.8,610.3 1255.0,583.6 1260.3,605.0 1265.7,548.0 1272.1,518.8 1281.7,562.3 1287.0,533.8 1292.4,632.8 1301.3,539.1 1306.6,619.3 1313.8,537.3 1318.0,487.4 1325.2,565.8 1332.3,473.9 1338.7,587.2 1342.3,548.0 1345.8,613.9 1351.2,565.8 1354.7,622.8 1359.4,576.5 1363.6,628.2 1366.5,540.9 1372.5,590.8 1377.2,491.7 1384.1,568.9 1388.3,535.9 1392.4,606.0 1397.3,560.6 1403.9,632.9 1411.0,593.7 1415.1,585.4 1423.3,597.8 1429.5,539.2 1435.7,568.9 1441.9,548.3 1448.1,606.0 1453.5,564.8 1458.4,638.2 1464.6,571.0 1471.6,616.4 1477.0,548.3 1486.5,510.3 1492.3,564.8 1499.7,524.3 1504.6,583.3 1510.4,507.8 1514.1,618.4 1520.3,537.9 1525.3,589.5 1534.8,507.0 1541.0,535.9 1545.9,498.7 1550.0,577.2 1556.2,492.5 1560.8,632.9 1566.5,544.1 1571.9,592.8 1578.1,564.8 1584.3,527.6 1588.4,544.1 1593.8,500.8 1596.7,527.6 1600.0,552.0 1607.5,671.0 1611.6,692.0 1617.8,729.0 1624.0,791.0 1628.0,826.0 1634.3,795.0 1641.8,836.4 1646.7,758.0 1651.7,799.0 1658.3,752.5 1663.2,799.0 1668.2,768.0 1673.5,811.6 1678.0,842.0 1681.0,857.0 1690.0,859.0 1693.5,852.0 1696.0,835.0 1699.5,848.0 1703.5,847.0 1706.6,811.6 1714.8,753.8 1723.0,687.7 1731.3,641.0 1739.6,599.0 1745.8,592.0 1758.0,585.0 1778.8,580.4 1807.7,579.6 1816.6,579.6"/>
<polyline stroke="#0000ff" stroke-width="16.5" stroke-linecap="round" points="269.5,398.0 272.0,424.0 276.6,456.0 281.4,488.0 284.0,532.0 286.0,565.0"/>
</g>
<g fill="#404040" font-size="50.3px">
<text x="127.8" y="54.0" text-anchor="end">25</text>
<text x="127.8" y="166.2" text-anchor="end">20</text>
<text x="127.8" y="278.4" text-anchor="end">15</text>
<text x="127.8" y="390.7" text-anchor="end">10</text>
<text x="127.8" y="502.9" text-anchor="end">5</text>
<text x="127.8" y="615.1" text-anchor="end">0</text>
<text x="139.5" y="727.4" text-anchor="end"><tspan font-weight="normal">−</tspan>5</text>
<text x="139.5" y="839.6" text-anchor="end"><tspan font-weight="normal">−</tspan>10</text>
<text x="139.5" y="951.8" text-anchor="end"><tspan font-weight="normal">−</tspan>15</text>
<text x="145.5" y="998" text-anchor="middle">0</text>
<text x="985.5" y="998" text-anchor="middle">1.8</text>
<text x="1820.6" y="998" text-anchor="middle">3.6</text>
</g>
<text x="986.7" y="1036" text-anchor="middle" font-size="49px" fill="#000" textLength="159.5" lengthAdjust="spacingAndGlyphs">Time[s]</text>
<text transform="translate(53.5,485) rotate(-90)" text-anchor="middle" font-size="47px" fill="#000" textLength="380" lengthAdjust="spacingAndGlyphs">Tracking error[μm]</text>
<rect x="1443.4" y="32.6" width="373.2" height="201.2" fill="#fff" stroke="#000" stroke-width="2.6"/>
<line x1="1496.8" y1="88.3" x2="1636" y2="88.3" stroke="#ff0000" stroke-width="11" stroke-dasharray="9.5 7"/>
<line x1="1498" y1="178.8" x2="1636" y2="178.8" stroke="#0000ff" stroke-width="10.5"/>
<text x="1646.8" y="109.6" font-size="45px" fill="#000" textLength="114.6" lengthAdjust="spacingAndGlyphs">Case 1</text>
<text x="1646.8" y="196.4" font-size="45px" fill="#000" textLength="114.6" lengthAdjust="spacingAndGlyphs">Case 2</text>
</svg></body></html>
